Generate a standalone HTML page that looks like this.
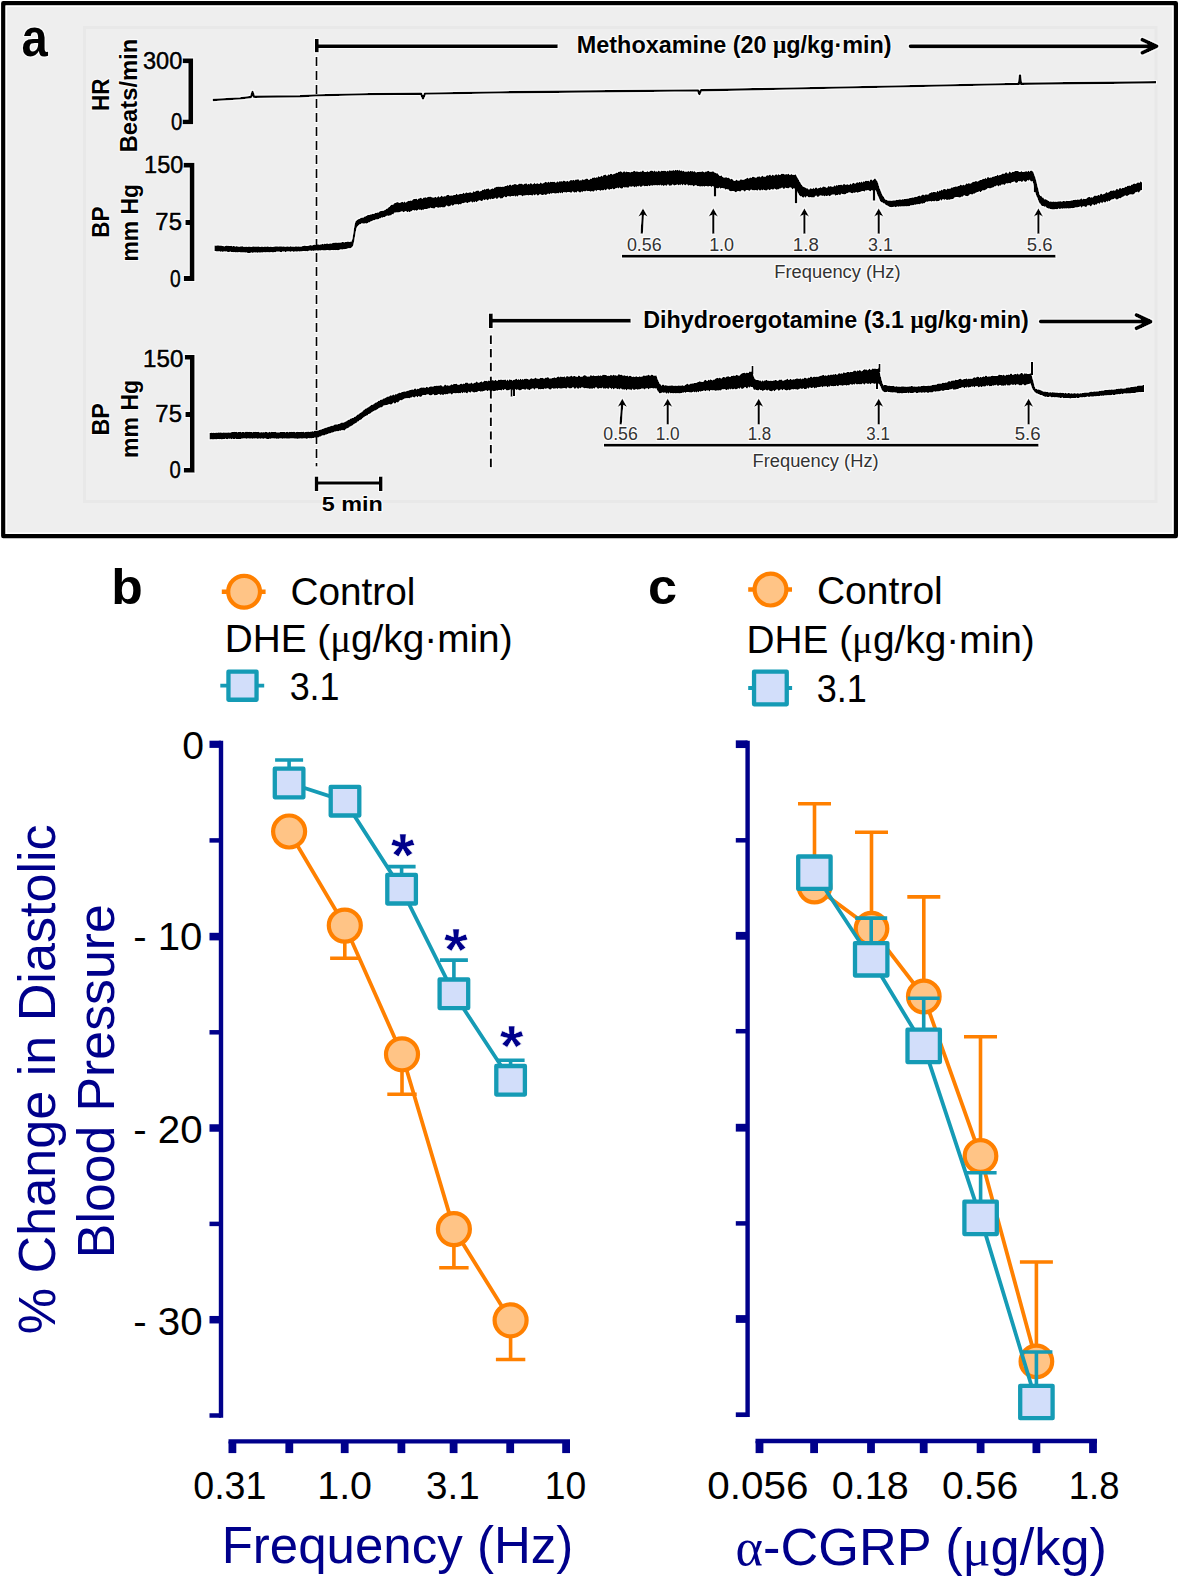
<!DOCTYPE html>
<html><head><meta charset="utf-8"><style>
html,body{margin:0;padding:0;background:#fff;}
svg{display:block;font-family:"Liberation Sans",sans-serif;}
</style></head><body>
<svg width="1181" height="1578" viewBox="0 0 1181 1578">
<defs><filter id="halo" x="-5%" y="-5%" width="110%" height="110%"><feMorphology in="SourceAlpha" operator="dilate" radius="1.2" result="d"/><feFlood flood-color="#ffffff" flood-opacity="0.75"/><feComposite in2="d" operator="in" result="w"/><feMerge><feMergeNode in="w"/><feMergeNode in="SourceGraphic"/></feMerge></filter></defs>
<rect width="1181" height="1578" fill="#fff"/>
<rect x="3.3" y="3.2" width="1172.5" height="532.9" fill="#eeeeee" stroke="#000" stroke-width="4.4" stroke-linejoin="round"/>
<rect x="6.3" y="6.2" width="1166.5" height="527" fill="none" stroke="#fff" stroke-width="1.6"/>
<rect x="84.5" y="27.5" width="1071.5" height="474" fill="none" stroke="#e8e8e8" stroke-width="3"/>
<g filter="url(#halo)">
<path d="M182.4,60.8 H190.7 V121.9 H182.4" fill="none" stroke="#000" stroke-width="4.9"/>
<path d="M183.3,165.3 H192.1 V278.5 H183.8 M185.3,222.5 H192.1" fill="none" stroke="#000" stroke-width="4.9"/>
<path d="M184.8,357.4 H192.3 V470.3 H183.8 M185.3,414.5 H192.3" fill="none" stroke="#000" stroke-width="4.8"/>
<line x1="316.5" y1="57.1" x2="316.5" y2="466.4" stroke="#000" stroke-width="2.1" stroke-dasharray="9,5"/>
<line x1="490.9" y1="335.3" x2="490.9" y2="468.2" stroke="#000" stroke-width="2.1" stroke-dasharray="8.6,5.1"/>
<path d="M316.9,39 V52.2 M316.9,46.1 H557.8" fill="none" stroke="#000" stroke-width="3.8"/>
<path d="M910.6,46.2 H1155 M1142.4,39.8 L1156.5,46.2 L1142.4,52.7" fill="none" stroke="#000" stroke-width="4" stroke-linecap="round" stroke-linejoin="round"/>
<path d="M490.9,313.4 V328 M490.9,320.8 H630.8" fill="none" stroke="#000" stroke-width="3.9"/>
<path d="M1040.8,321.6 H1149 M1136.5,315 L1150.5,321.6 L1136.5,328.2" fill="none" stroke="#000" stroke-width="4" stroke-linecap="round" stroke-linejoin="round"/>
<path d="M316.5,476.5 V491 M316.5,483 H380.8 M380.8,476.5 V491" fill="none" stroke="#000" stroke-width="3.6"/>
<path d="M641.7,233.8 L643,212.2" stroke="#000" stroke-width="2.4" fill="none"/>
<path d="M643,208.2 L638.2,216.7 L643,214.2 L647.8,216.7 Z" fill="#000"/>
<path d="M713.3,233.8 L713.3,212.2" stroke="#000" stroke-width="2.4" fill="none"/>
<path d="M713.3,208.2 L708.5,216.7 L713.3,214.2 L718.0999999999999,216.7 Z" fill="#000"/>
<path d="M804.4,233.8 L804.4,212.2" stroke="#000" stroke-width="2.4" fill="none"/>
<path d="M804.4,208.2 L799.6,216.7 L804.4,214.2 L809.1999999999999,216.7 Z" fill="#000"/>
<path d="M878.7,233.8 L878.7,212.2" stroke="#000" stroke-width="2.4" fill="none"/>
<path d="M878.7,208.2 L873.9000000000001,216.7 L878.7,214.2 L883.5,216.7 Z" fill="#000"/>
<path d="M1038.4,233.8 L1038.4,212.2" stroke="#000" stroke-width="2.4" fill="none"/>
<path d="M1038.4,208.2 L1033.6000000000001,216.7 L1038.4,214.2 L1043.2,216.7 Z" fill="#000"/>
<line x1="622" y1="256.2" x2="1055.6" y2="256.2" stroke="#000" stroke-width="3"/>
<path d="M620.6,424.5 L622.3,402.4" stroke="#000" stroke-width="2.4" fill="none"/>
<path d="M622.3,398.4 L617.5,406.9 L622.3,404.4 L627.0999999999999,406.9 Z" fill="#000"/>
<path d="M667.7,424.5 L667.7,402.4" stroke="#000" stroke-width="2.4" fill="none"/>
<path d="M667.7,398.4 L662.9000000000001,406.9 L667.7,404.4 L672.5,406.9 Z" fill="#000"/>
<path d="M758.7,424.5 L758.7,402.4" stroke="#000" stroke-width="2.4" fill="none"/>
<path d="M758.7,398.4 L753.9000000000001,406.9 L758.7,404.4 L763.5,406.9 Z" fill="#000"/>
<path d="M878.7,424.5 L878.7,402.4" stroke="#000" stroke-width="2.4" fill="none"/>
<path d="M878.7,398.4 L873.9000000000001,406.9 L878.7,404.4 L883.5,406.9 Z" fill="#000"/>
<path d="M1028.6,424.5 L1028.6,402.4" stroke="#000" stroke-width="2.4" fill="none"/>
<path d="M1028.6,398.4 L1023.8,406.9 L1028.6,404.4 L1033.3999999999999,406.9 Z" fill="#000"/>
<line x1="604" y1="445.3" x2="1038.6" y2="445.3" stroke="#000" stroke-width="3"/>
<polyline points="212.7,100.0 240.0,98.4 251.0,97.0 252.5,92.0 254.0,96.7 300.0,96.2 316.0,95.4 370.0,94.1 421.0,93.6 423.0,98.4 425.0,93.6 500.0,92.4 580.0,91.5 698.0,90.4 699.4,94.0 701.0,90.3 900.0,86.4 1019.0,83.9 1020.0,75.5 1021.0,83.8 1156.0,82.3" fill="none" stroke="#000" stroke-width="2.4" stroke-linejoin="round"/>
<path d="M214.4,245.4 L215.4,245.6 L216.4,245.6 L217.4,245.3 L218.4,245.3 L219.4,245.4 L220.4,245.6 L221.4,245.5 L222.4,245.9 L223.4,245.9 L224.4,246.2 L225.4,246.1 L226.4,245.6 L227.4,245.8 L228.4,245.7 L229.4,246.1 L230.4,246.1 L231.4,245.8 L232.4,246.2 L233.4,246.0 L234.4,246.1 L235.4,246.4 L236.4,246.1 L237.4,246.3 L238.4,246.5 L239.4,246.7 L240.4,246.3 L241.4,246.2 L242.4,246.1 L243.4,246.7 L244.4,246.8 L245.4,246.7 L246.4,246.6 L247.4,246.9 L248.4,246.6 L249.4,246.4 L250.4,246.8 L251.4,246.9 L252.4,246.6 L253.4,246.3 L254.4,246.4 L255.4,246.4 L256.4,246.4 L257.4,246.6 L258.4,246.3 L259.4,246.7 L260.4,246.9 L261.4,246.5 L262.4,246.5 L263.4,246.9 L264.4,246.4 L265.4,246.4 L266.4,246.7 L267.4,246.2 L268.4,246.5 L269.4,246.9 L270.4,246.6 L271.4,246.7 L272.4,246.9 L273.4,246.8 L274.4,246.5 L275.4,246.3 L276.4,246.2 L277.4,246.3 L278.4,246.4 L279.4,246.2 L280.4,246.2 L281.4,246.2 L282.4,246.6 L283.4,246.3 L284.4,246.4 L285.4,246.7 L286.4,246.5 L287.4,246.2 L288.4,246.4 L289.4,246.7 L290.4,246.1 L291.4,246.5 L292.4,246.5 L293.4,246.5 L294.4,246.7 L295.4,246.3 L296.4,246.2 L297.4,246.4 L298.4,246.3 L299.4,246.6 L300.4,246.6 L301.4,246.5 L302.4,245.9 L303.4,245.9 L304.4,245.6 L305.4,245.7 L306.4,246.0 L307.4,245.9 L308.4,245.8 L309.4,245.2 L310.4,245.1 L311.4,245.3 L312.4,245.3 L313.4,245.1 L314.4,244.6 L315.4,245.1 L316.4,244.8 L317.4,244.3 L318.4,244.3 L319.4,244.7 L320.4,244.2 L321.4,244.3 L322.4,243.8 L323.4,244.3 L324.4,243.6 L325.4,244.1 L326.4,243.6 L327.4,243.3 L328.4,243.9 L329.4,243.4 L330.4,243.3 L331.4,243.5 L332.4,242.9 L333.4,242.8 L334.4,242.8 L335.4,242.6 L336.4,242.6 L337.4,242.7 L338.4,242.5 L339.4,242.5 L340.4,242.4 L341.4,242.3 L342.4,241.9 L343.4,241.9 L344.4,242.3 L345.4,241.9 L346.4,242.0 L347.4,241.6 L348.4,241.6 L349.4,241.9 L350.4,241.6 L351.4,241.5 L352.4,238.8 L353.4,232.2 L354.4,225.5 L355.4,221.4 L356.4,220.5 L357.4,219.8 L358.4,218.9 L359.4,218.9 L360.4,218.1 L361.4,217.8 L362.4,217.5 L363.4,217.4 L364.4,216.4 L365.4,216.2 L366.4,215.9 L367.4,215.1 L368.4,215.0 L369.4,215.1 L370.4,214.3 L371.4,214.3 L372.4,213.8 L373.4,213.9 L374.4,213.5 L375.4,212.8 L376.4,212.9 L377.4,212.2 L378.4,212.4 L379.4,211.5 L380.4,211.1 L381.4,211.0 L382.4,210.7 L383.4,210.7 L384.4,209.9 L385.4,209.7 L386.4,208.7 L387.4,208.4 L388.4,207.3 L389.4,207.1 L390.4,205.5 L391.4,204.8 L392.4,204.8 L393.4,204.3 L394.4,203.1 L395.4,203.1 L396.4,202.2 L397.4,202.0 L398.4,202.3 L399.4,203.0 L400.4,202.4 L401.4,202.0 L402.4,201.7 L403.4,202.4 L404.4,201.3 L405.4,202.5 L406.4,202.1 L407.4,201.2 L408.4,200.8 L409.4,201.1 L410.4,200.3 L411.4,200.7 L412.4,200.0 L413.4,199.1 L414.4,198.9 L415.4,199.0 L416.4,198.5 L417.4,199.7 L418.4,198.4 L419.4,198.2 L420.4,197.7 L421.4,197.8 L422.4,199.0 L423.4,197.6 L424.4,197.6 L425.4,197.0 L426.4,197.7 L427.4,197.1 L428.4,196.7 L429.4,196.7 L430.4,196.5 L431.4,196.9 L432.4,197.3 L433.4,197.5 L434.4,197.3 L435.4,196.7 L436.4,197.6 L437.4,197.1 L438.4,195.7 L439.4,197.2 L440.4,196.8 L441.4,195.6 L442.4,196.2 L443.4,196.6 L444.4,196.1 L445.4,196.2 L446.4,195.3 L447.4,195.0 L448.4,194.8 L449.4,195.6 L450.4,195.6 L451.4,195.2 L452.4,195.6 L453.4,194.9 L454.4,195.0 L455.4,195.0 L456.4,193.6 L457.4,194.6 L458.4,194.5 L459.4,193.9 L460.4,193.7 L461.4,194.1 L462.4,193.7 L463.4,192.6 L464.4,193.5 L465.4,193.1 L466.4,192.0 L467.4,192.9 L468.4,192.8 L469.4,192.3 L470.4,192.1 L471.4,192.7 L472.4,192.7 L473.4,190.8 L474.4,192.1 L475.4,191.2 L476.4,190.7 L477.4,190.5 L478.4,190.2 L479.4,191.5 L480.4,191.1 L481.4,191.0 L482.4,189.6 L483.4,189.9 L484.4,188.8 L485.4,189.4 L486.4,188.7 L487.4,188.8 L488.4,188.1 L489.4,189.4 L490.4,189.3 L491.4,189.1 L492.4,187.9 L493.4,188.9 L494.4,187.5 L495.4,187.2 L496.4,186.7 L497.4,186.8 L498.4,186.5 L499.4,186.8 L500.4,186.4 L501.4,187.1 L502.4,186.4 L503.4,186.8 L504.4,186.2 L505.4,186.0 L506.4,185.9 L507.4,184.8 L508.4,185.8 L509.4,184.8 L510.4,184.3 L511.4,185.5 L512.4,184.8 L513.4,184.6 L514.4,183.9 L515.4,183.9 L516.4,184.3 L517.4,185.0 L518.4,184.1 L519.4,183.6 L520.4,183.8 L521.4,183.6 L522.4,184.1 L523.4,184.4 L524.4,183.7 L525.4,183.6 L526.4,183.0 L527.4,184.6 L528.4,183.7 L529.4,184.3 L530.4,183.1 L531.4,183.3 L532.4,184.2 L533.4,184.0 L534.4,182.5 L535.4,184.0 L536.4,183.4 L537.4,183.0 L538.4,183.7 L539.4,183.9 L540.4,182.3 L541.4,182.9 L542.4,183.6 L543.4,183.0 L544.4,182.6 L545.4,181.7 L546.4,182.0 L547.4,182.6 L548.4,181.6 L549.4,182.5 L550.4,181.4 L551.4,182.1 L552.4,181.8 L553.4,182.1 L554.4,181.4 L555.4,182.5 L556.4,182.3 L557.4,181.1 L558.4,182.3 L559.4,181.0 L560.4,181.3 L561.4,181.1 L562.4,181.4 L563.4,180.6 L564.4,180.7 L565.4,181.2 L566.4,181.3 L567.4,180.7 L568.4,181.5 L569.4,181.1 L570.4,180.0 L571.4,180.0 L572.4,180.3 L573.4,179.7 L574.4,180.4 L575.4,179.4 L576.4,179.4 L577.4,179.2 L578.4,179.0 L579.4,180.4 L580.4,180.0 L581.4,180.3 L582.4,178.9 L583.4,179.8 L584.4,179.6 L585.4,179.0 L586.4,178.5 L587.4,178.6 L588.4,179.8 L589.4,179.7 L590.4,178.4 L591.4,179.0 L592.4,177.4 L593.4,177.7 L594.4,177.1 L595.4,178.1 L596.4,177.0 L597.4,177.4 L598.4,175.8 L599.4,177.1 L600.4,176.6 L601.4,175.6 L602.4,176.5 L603.4,175.1 L604.4,174.9 L605.4,174.2 L606.4,175.6 L607.4,175.4 L608.4,174.0 L609.4,175.0 L610.4,173.8 L611.4,173.7 L612.4,174.4 L613.4,173.9 L614.4,173.8 L615.4,173.2 L616.4,172.4 L617.4,173.1 L618.4,171.8 L619.4,171.7 L620.4,171.1 L621.4,171.6 L622.4,172.6 L623.4,171.4 L624.4,171.1 L625.4,172.2 L626.4,171.3 L627.4,171.9 L628.4,172.1 L629.4,171.9 L630.4,172.2 L631.4,171.7 L632.4,171.9 L633.4,171.0 L634.4,170.8 L635.4,171.5 L636.4,171.2 L637.4,171.3 L638.4,171.8 L639.4,172.1 L640.4,171.2 L641.4,171.8 L642.4,170.4 L643.4,170.5 L644.4,172.1 L645.4,172.0 L646.4,171.9 L647.4,170.8 L648.4,172.0 L649.4,171.4 L650.4,170.7 L651.4,170.6 L652.4,170.8 L653.4,171.5 L654.4,170.3 L655.4,171.5 L656.4,170.9 L657.4,171.7 L658.4,170.4 L659.4,171.0 L660.4,171.4 L661.4,170.5 L662.4,170.9 L663.4,170.7 L664.4,170.7 L665.4,170.7 L666.4,171.6 L667.4,170.6 L668.4,171.2 L669.4,169.9 L670.4,170.6 L671.4,170.5 L672.4,170.6 L673.4,169.7 L674.4,170.8 L675.4,169.8 L676.4,170.2 L677.4,169.8 L678.4,170.4 L679.4,169.6 L680.4,170.9 L681.4,169.9 L682.4,171.3 L683.4,170.6 L684.4,171.4 L685.4,171.5 L686.4,171.4 L687.4,171.4 L688.4,170.8 L689.4,171.7 L690.4,170.7 L691.4,171.3 L692.4,170.7 L693.4,171.8 L694.4,170.7 L695.4,172.1 L696.4,172.3 L697.4,172.0 L698.4,172.1 L699.4,171.8 L700.4,171.8 L701.4,171.8 L702.4,171.0 L703.4,171.8 L704.4,172.2 L705.4,171.6 L706.4,171.6 L707.4,170.9 L708.4,170.8 L709.4,171.5 L710.4,171.7 L711.4,171.8 L712.4,171.3 L713.4,171.2 L714.4,172.3 L715.4,172.8 L716.4,173.3 L717.4,173.0 L718.4,174.3 L719.4,175.7 L720.4,176.1 L721.4,175.1 L722.4,176.7 L723.4,177.3 L724.4,177.5 L725.4,177.2 L726.4,177.1 L727.4,177.9 L728.4,177.4 L729.4,178.0 L730.4,179.3 L731.4,178.7 L732.4,178.9 L733.4,180.2 L734.4,181.0 L735.4,180.6 L736.4,179.6 L737.4,180.3 L738.4,180.5 L739.4,180.6 L740.4,179.3 L741.4,179.3 L742.4,179.7 L743.4,179.7 L744.4,179.2 L745.4,178.9 L746.4,178.3 L747.4,177.6 L748.4,178.5 L749.4,178.1 L750.4,177.3 L751.4,178.1 L752.4,176.8 L753.4,176.8 L754.4,176.9 L755.4,177.5 L756.4,177.4 L757.4,176.4 L758.4,176.4 L759.4,176.1 L760.4,177.3 L761.4,176.3 L762.4,175.5 L763.4,176.4 L764.4,176.4 L765.4,176.8 L766.4,175.4 L767.4,174.9 L768.4,175.4 L769.4,174.7 L770.4,174.5 L771.4,176.1 L772.4,174.6 L773.4,175.1 L774.4,175.5 L775.4,174.5 L776.4,173.9 L777.4,175.2 L778.4,173.7 L779.4,174.9 L780.4,174.8 L781.4,173.8 L782.4,173.7 L783.4,173.8 L784.4,174.3 L785.4,174.2 L786.4,173.9 L787.4,174.3 L788.4,173.4 L789.4,174.8 L790.4,174.7 L791.4,173.7 L792.4,174.7 L793.4,174.8 L794.4,175.1 L795.4,174.1 L796.4,175.6 L797.4,177.5 L798.4,179.0 L799.4,181.2 L800.4,182.6 L801.4,184.6 L802.4,185.7 L803.4,186.7 L804.4,187.1 L805.4,187.4 L806.4,188.2 L807.4,187.9 L808.4,189.3 L809.4,189.2 L810.4,187.9 L811.4,188.4 L812.4,189.1 L813.4,187.6 L814.4,189.0 L815.4,187.4 L816.4,187.3 L817.4,188.5 L818.4,188.0 L819.4,187.9 L820.4,186.8 L821.4,187.9 L822.4,187.0 L823.4,186.3 L824.4,186.7 L825.4,186.7 L826.4,187.7 L827.4,187.3 L828.4,185.7 L829.4,186.4 L830.4,186.1 L831.4,186.3 L832.4,186.8 L833.4,186.6 L834.4,185.0 L835.4,186.2 L836.4,184.7 L837.4,185.5 L838.4,184.8 L839.4,184.9 L840.4,184.7 L841.4,184.6 L842.4,185.2 L843.4,184.0 L844.4,183.8 L845.4,184.8 L846.4,184.6 L847.4,184.0 L848.4,184.8 L849.4,184.7 L850.4,183.3 L851.4,184.4 L852.4,183.3 L853.4,182.8 L854.4,183.2 L855.4,183.4 L856.4,182.5 L857.4,182.0 L858.4,182.8 L859.4,181.7 L860.4,182.6 L861.4,181.3 L862.4,182.5 L863.4,181.1 L864.4,181.8 L865.4,180.7 L866.4,180.7 L867.4,181.0 L868.4,180.5 L869.4,181.5 L870.4,179.6 L871.4,179.3 L872.4,180.6 L873.4,179.8 L874.4,178.5 L875.4,178.5 L876.4,180.1 L877.4,181.2 L878.4,183.9 L879.4,187.8 L880.4,190.1 L881.4,192.4 L882.4,195.1 L883.4,196.2 L884.4,198.0 L885.4,199.4 L886.4,199.8 L887.4,200.2 L888.4,200.4 L889.4,200.5 L890.4,200.5 L891.4,200.8 L892.4,200.6 L893.4,200.3 L894.4,200.3 L895.4,200.3 L896.4,199.8 L897.4,200.1 L898.4,199.7 L899.4,199.3 L900.4,199.3 L901.4,199.7 L902.4,199.0 L903.4,199.2 L904.4,199.0 L905.4,199.1 L906.4,198.7 L907.4,198.4 L908.4,198.4 L909.4,198.1 L910.4,198.1 L911.4,197.8 L912.4,197.3 L913.4,197.4 L914.4,197.1 L915.4,196.7 L916.4,197.0 L917.4,196.2 L918.4,196.1 L919.4,195.2 L920.4,196.2 L921.4,195.3 L922.4,194.6 L923.4,194.6 L924.4,195.2 L925.4,194.3 L926.4,194.2 L927.4,194.5 L928.4,194.2 L929.4,193.1 L930.4,193.0 L931.4,191.9 L932.4,192.2 L933.4,192.0 L934.4,191.9 L935.4,192.1 L936.4,192.3 L937.4,190.5 L938.4,191.8 L939.4,190.2 L940.4,190.8 L941.4,189.4 L942.4,190.3 L943.4,189.1 L944.4,189.0 L945.4,189.0 L946.4,189.7 L947.4,188.2 L948.4,188.7 L949.4,188.6 L950.4,188.5 L951.4,187.2 L952.4,187.5 L953.4,187.1 L954.4,187.1 L955.4,186.2 L956.4,186.5 L957.4,186.2 L958.4,185.9 L959.4,185.8 L960.4,184.6 L961.4,185.1 L962.4,185.2 L963.4,184.5 L964.4,185.3 L965.4,184.4 L966.4,183.1 L967.4,184.0 L968.4,183.1 L969.4,183.2 L970.4,183.6 L971.4,183.0 L972.4,182.0 L973.4,181.8 L974.4,181.7 L975.4,180.9 L976.4,181.0 L977.4,181.4 L978.4,181.1 L979.4,180.2 L980.4,179.9 L981.4,179.9 L982.4,179.0 L983.4,178.7 L984.4,179.0 L985.4,177.6 L986.4,178.9 L987.4,177.1 L988.4,176.7 L989.4,178.0 L990.4,177.3 L991.4,177.5 L992.4,176.7 L993.4,176.6 L994.4,176.3 L995.4,176.0 L996.4,175.9 L997.4,174.6 L998.4,175.5 L999.4,175.0 L1000.4,175.0 L1001.4,174.3 L1002.4,173.6 L1003.4,173.4 L1004.4,173.7 L1005.4,172.4 L1006.4,172.1 L1007.4,173.2 L1008.4,173.2 L1009.4,171.3 L1010.4,172.1 L1011.4,172.8 L1012.4,171.7 L1013.4,172.1 L1014.4,171.2 L1015.4,170.9 L1016.4,171.1 L1017.4,171.0 L1018.4,171.0 L1019.4,172.0 L1020.4,172.0 L1021.4,170.7 L1022.4,171.9 L1023.4,171.9 L1024.4,171.7 L1025.4,171.3 L1026.4,170.9 L1027.4,171.7 L1028.4,170.4 L1029.4,171.8 L1030.4,170.8 L1031.4,170.5 L1032.4,171.0 L1033.4,172.0 L1034.4,175.1 L1035.4,177.6 L1036.4,181.3 L1037.4,185.7 L1038.4,189.2 L1039.4,194.1 L1040.4,196.1 L1041.4,195.7 L1042.4,197.5 L1043.4,197.4 L1044.4,199.2 L1045.4,199.1 L1046.4,199.5 L1047.4,200.1 L1048.4,200.8 L1049.4,201.6 L1050.4,201.3 L1051.4,201.6 L1052.4,201.8 L1053.4,201.2 L1054.4,201.7 L1055.4,201.5 L1056.4,201.7 L1057.4,201.5 L1058.4,201.2 L1059.4,201.3 L1060.4,201.0 L1061.4,201.5 L1062.4,201.2 L1063.4,201.1 L1064.4,200.9 L1065.4,201.2 L1066.4,200.7 L1067.4,201.1 L1068.4,200.9 L1069.4,201.1 L1070.4,200.7 L1071.4,200.3 L1072.4,200.2 L1073.4,200.1 L1074.4,200.0 L1075.4,199.6 L1076.4,200.1 L1077.4,199.3 L1078.4,199.6 L1079.4,199.4 L1080.4,199.1 L1081.4,198.0 L1082.4,199.4 L1083.4,198.6 L1084.4,198.9 L1085.4,199.0 L1086.4,198.6 L1087.4,197.4 L1088.4,197.1 L1089.4,196.8 L1090.4,197.4 L1091.4,196.9 L1092.4,197.4 L1093.4,196.6 L1094.4,195.4 L1095.4,195.4 L1096.4,195.8 L1097.4,195.5 L1098.4,194.8 L1099.4,195.5 L1100.4,193.8 L1101.4,193.6 L1102.4,194.5 L1103.4,194.1 L1104.4,193.7 L1105.4,193.1 L1106.4,191.8 L1107.4,192.7 L1108.4,192.3 L1109.4,191.8 L1110.4,190.7 L1111.4,190.6 L1112.4,190.8 L1113.4,190.0 L1114.4,190.5 L1115.4,190.3 L1116.4,188.8 L1117.4,188.8 L1118.4,189.7 L1119.4,188.1 L1120.4,187.7 L1121.4,188.8 L1122.4,187.8 L1123.4,188.1 L1124.4,187.5 L1125.4,186.5 L1126.4,187.0 L1127.4,185.7 L1128.4,185.7 L1129.4,185.2 L1130.4,186.1 L1131.4,184.5 L1132.4,184.4 L1133.4,183.7 L1134.4,183.2 L1135.4,184.0 L1136.4,183.3 L1137.4,182.5 L1138.4,182.3 L1139.4,183.1 L1140.4,181.1 L1141.4,182.2 L1142.0,181.7 L1142.0,190.2 L1141.4,190.0 L1140.4,190.8 L1139.4,192.3 L1138.4,192.8 L1137.4,191.7 L1136.4,192.2 L1135.4,192.4 L1134.4,194.0 L1133.4,194.5 L1132.4,194.8 L1131.4,194.4 L1130.4,194.5 L1129.4,194.7 L1128.4,195.2 L1127.4,196.3 L1126.4,196.1 L1125.4,195.5 L1124.4,195.9 L1123.4,196.8 L1122.4,196.9 L1121.4,197.7 L1120.4,198.5 L1119.4,197.9 L1118.4,199.0 L1117.4,199.4 L1116.4,199.7 L1115.4,198.7 L1114.4,198.6 L1113.4,199.2 L1112.4,199.5 L1111.4,199.7 L1110.4,200.4 L1109.4,201.4 L1108.4,200.8 L1107.4,202.3 L1106.4,201.1 L1105.4,202.8 L1104.4,202.6 L1103.4,201.7 L1102.4,203.5 L1101.4,202.7 L1100.4,202.4 L1099.4,204.4 L1098.4,203.1 L1097.4,203.8 L1096.4,205.1 L1095.4,204.6 L1094.4,205.6 L1093.4,204.8 L1092.4,204.5 L1091.4,206.3 L1090.4,206.5 L1089.4,205.2 L1088.4,205.5 L1087.4,205.4 L1086.4,207.2 L1085.4,207.0 L1084.4,206.5 L1083.4,206.3 L1082.4,206.8 L1081.4,207.9 L1080.4,206.2 L1079.4,206.9 L1078.4,207.1 L1077.4,207.6 L1076.4,207.5 L1075.4,207.4 L1074.4,207.9 L1073.4,208.0 L1072.4,208.2 L1071.4,208.0 L1070.4,208.4 L1069.4,208.4 L1068.4,208.8 L1067.4,208.3 L1066.4,208.8 L1065.4,208.6 L1064.4,208.8 L1063.4,208.5 L1062.4,208.9 L1061.4,208.6 L1060.4,209.0 L1059.4,209.1 L1058.4,208.6 L1057.4,209.3 L1056.4,209.2 L1055.4,208.9 L1054.4,209.4 L1053.4,209.4 L1052.4,209.5 L1051.4,209.3 L1050.4,209.1 L1049.4,208.8 L1048.4,208.8 L1047.4,208.1 L1046.4,207.7 L1045.4,206.6 L1044.4,207.0 L1043.4,206.1 L1042.4,206.0 L1041.4,205.8 L1040.4,204.0 L1039.4,203.3 L1038.4,201.0 L1037.4,198.1 L1036.4,196.2 L1035.4,192.9 L1034.4,188.4 L1033.4,183.9 L1032.4,180.9 L1031.4,181.8 L1030.4,181.1 L1029.4,179.8 L1028.4,181.0 L1027.4,179.9 L1026.4,181.8 L1025.4,181.9 L1024.4,181.6 L1023.4,180.6 L1022.4,182.1 L1021.4,182.1 L1020.4,181.1 L1019.4,181.4 L1018.4,181.1 L1017.4,182.7 L1016.4,183.0 L1015.4,182.7 L1014.4,181.6 L1013.4,182.1 L1012.4,182.0 L1011.4,182.8 L1010.4,183.7 L1009.4,182.9 L1008.4,183.3 L1007.4,183.8 L1006.4,183.2 L1005.4,184.3 L1004.4,185.2 L1003.4,184.6 L1002.4,184.8 L1001.4,184.8 L1000.4,186.0 L999.4,185.5 L998.4,186.7 L997.4,185.4 L996.4,185.8 L995.4,186.6 L994.4,186.5 L993.4,187.4 L992.4,187.7 L991.4,187.9 L990.4,188.5 L989.4,188.5 L988.4,188.1 L987.4,188.6 L986.4,189.4 L985.4,190.1 L984.4,190.5 L983.4,190.5 L982.4,190.4 L981.4,191.5 L980.4,192.2 L979.4,191.3 L978.4,191.9 L977.4,192.0 L976.4,192.8 L975.4,192.9 L974.4,193.9 L973.4,193.7 L972.4,194.7 L971.4,194.6 L970.4,193.9 L969.4,195.0 L968.4,196.1 L967.4,196.2 L966.4,195.9 L965.4,196.1 L964.4,195.3 L963.4,196.1 L962.4,197.1 L961.4,196.8 L960.4,197.5 L959.4,197.8 L958.4,197.3 L957.4,196.9 L956.4,197.0 L955.4,197.3 L954.4,197.8 L953.4,199.1 L952.4,199.0 L951.4,199.2 L950.4,199.6 L949.4,199.9 L948.4,199.8 L947.4,200.1 L946.4,200.1 L945.4,199.1 L944.4,200.3 L943.4,199.3 L942.4,199.6 L941.4,201.0 L940.4,199.5 L939.4,201.1 L938.4,201.1 L937.4,201.3 L936.4,201.5 L935.4,200.8 L934.4,201.4 L933.4,201.2 L932.4,200.9 L931.4,201.9 L930.4,201.1 L929.4,201.4 L928.4,201.6 L927.4,202.0 L926.4,201.8 L925.4,202.3 L924.4,203.4 L923.4,203.3 L922.4,204.1 L921.4,203.6 L920.4,204.0 L919.4,204.4 L918.4,203.9 L917.4,204.6 L916.4,204.6 L915.4,204.9 L914.4,204.8 L913.4,205.3 L912.4,205.3 L911.4,205.5 L910.4,205.5 L909.4,206.3 L908.4,206.2 L907.4,206.2 L906.4,206.5 L905.4,206.2 L904.4,206.4 L903.4,206.5 L902.4,206.4 L901.4,206.5 L900.4,206.7 L899.4,206.6 L898.4,207.0 L897.4,206.6 L896.4,206.9 L895.4,207.2 L894.4,206.8 L893.4,206.9 L892.4,206.9 L891.4,207.3 L890.4,207.1 L889.4,206.9 L888.4,206.2 L887.4,205.8 L886.4,205.2 L885.4,204.7 L884.4,203.6 L883.4,203.4 L882.4,202.4 L881.4,202.3 L880.4,201.4 L879.4,199.4 L878.4,197.0 L877.4,195.3 L876.4,192.0 L875.4,190.3 L874.4,190.3 L873.4,190.1 L872.4,190.8 L871.4,190.2 L870.4,191.4 L869.4,191.1 L868.4,190.2 L867.4,190.3 L866.4,190.8 L865.4,190.6 L864.4,191.9 L863.4,191.1 L862.4,191.1 L861.4,191.6 L860.4,192.0 L859.4,191.9 L858.4,192.5 L857.4,192.9 L856.4,192.1 L855.4,192.8 L854.4,193.1 L853.4,192.7 L852.4,193.6 L851.4,193.0 L850.4,192.7 L849.4,192.4 L848.4,192.7 L847.4,193.3 L846.4,193.4 L845.4,194.3 L844.4,194.4 L843.4,194.3 L842.4,194.1 L841.4,193.8 L840.4,195.2 L839.4,195.1 L838.4,194.6 L837.4,195.3 L836.4,194.9 L835.4,195.9 L834.4,194.6 L833.4,194.7 L832.4,194.7 L831.4,195.0 L830.4,196.0 L829.4,196.2 L828.4,195.6 L827.4,196.1 L826.4,195.9 L825.4,195.7 L824.4,196.4 L823.4,195.7 L822.4,196.0 L821.4,195.7 L820.4,195.6 L819.4,196.0 L818.4,197.0 L817.4,197.1 L816.4,195.7 L815.4,196.1 L814.4,197.5 L813.4,197.4 L812.4,197.5 L811.4,197.5 L810.4,197.1 L809.4,197.4 L808.4,197.3 L807.4,196.3 L806.4,196.6 L805.4,198.0 L804.4,196.5 L803.4,198.1 L802.4,197.3 L801.4,196.3 L800.4,196.6 L799.4,195.6 L798.4,193.8 L797.4,192.3 L796.4,190.0 L795.4,189.7 L794.4,188.5 L793.4,188.4 L792.4,189.4 L791.4,188.1 L790.4,187.6 L789.4,187.8 L788.4,188.5 L787.4,188.2 L786.4,188.0 L785.4,187.8 L784.4,189.0 L783.4,188.9 L782.4,187.7 L781.4,187.9 L780.4,188.7 L779.4,188.8 L778.4,189.6 L777.4,189.4 L776.4,189.9 L775.4,188.9 L774.4,188.8 L773.4,189.7 L772.4,189.8 L771.4,189.0 L770.4,189.9 L769.4,190.3 L768.4,189.4 L767.4,190.0 L766.4,190.7 L765.4,190.4 L764.4,189.9 L763.4,189.8 L762.4,190.4 L761.4,189.7 L760.4,190.7 L759.4,190.5 L758.4,189.6 L757.4,191.1 L756.4,190.3 L755.4,189.9 L754.4,190.6 L753.4,190.2 L752.4,190.2 L751.4,189.7 L750.4,190.1 L749.4,191.3 L748.4,190.6 L747.4,190.1 L746.4,189.9 L745.4,191.2 L744.4,191.8 L743.4,190.6 L742.4,190.2 L741.4,190.5 L740.4,191.7 L739.4,191.4 L738.4,190.9 L737.4,191.2 L736.4,192.3 L735.4,192.2 L734.4,191.5 L733.4,190.9 L732.4,191.0 L731.4,191.2 L730.4,191.2 L729.4,191.0 L728.4,189.4 L727.4,189.5 L726.4,189.1 L725.4,190.1 L724.4,188.5 L723.4,188.5 L722.4,188.0 L721.4,188.1 L720.4,189.0 L719.4,187.4 L718.4,188.6 L717.4,188.5 L716.4,188.0 L715.4,188.1 L714.4,186.4 L713.4,186.8 L712.4,186.1 L711.4,187.4 L710.4,186.1 L709.4,186.0 L708.4,186.7 L707.4,186.6 L706.4,186.0 L705.4,186.1 L704.4,187.1 L703.4,186.1 L702.4,186.7 L701.4,186.3 L700.4,186.7 L699.4,186.5 L698.4,185.9 L697.4,186.3 L696.4,185.4 L695.4,185.2 L694.4,186.0 L693.4,186.6 L692.4,185.3 L691.4,185.5 L690.4,185.4 L689.4,184.9 L688.4,186.0 L687.4,184.8 L686.4,184.6 L685.4,185.4 L684.4,184.9 L683.4,184.2 L682.4,185.8 L681.4,184.1 L680.4,185.6 L679.4,184.7 L678.4,185.5 L677.4,184.4 L676.4,184.9 L675.4,185.1 L674.4,185.7 L673.4,185.1 L672.4,184.4 L671.4,185.8 L670.4,185.7 L669.4,185.9 L668.4,184.7 L667.4,184.7 L666.4,186.2 L665.4,185.2 L664.4,185.5 L663.4,186.3 L662.4,185.1 L661.4,185.9 L660.4,184.8 L659.4,185.7 L658.4,184.9 L657.4,185.8 L656.4,185.2 L655.4,185.2 L654.4,185.5 L653.4,185.3 L652.4,186.1 L651.4,185.4 L650.4,185.7 L649.4,186.2 L648.4,185.4 L647.4,186.6 L646.4,186.1 L645.4,186.0 L644.4,186.4 L643.4,185.7 L642.4,185.9 L641.4,187.1 L640.4,187.0 L639.4,185.7 L638.4,186.8 L637.4,186.1 L636.4,187.6 L635.4,186.5 L634.4,187.6 L633.4,186.5 L632.4,186.5 L631.4,186.9 L630.4,186.8 L629.4,186.6 L628.4,188.0 L627.4,187.8 L626.4,187.4 L625.4,187.5 L624.4,187.7 L623.4,187.1 L622.4,188.8 L621.4,188.8 L620.4,188.2 L619.4,187.4 L618.4,188.8 L617.4,187.7 L616.4,188.3 L615.4,188.4 L614.4,189.3 L613.4,189.4 L612.4,188.5 L611.4,189.2 L610.4,188.9 L609.4,190.2 L608.4,189.5 L607.4,188.8 L606.4,190.0 L605.4,190.4 L604.4,189.6 L603.4,190.6 L602.4,190.5 L601.4,190.0 L600.4,191.3 L599.4,190.2 L598.4,190.0 L597.4,190.0 L596.4,191.5 L595.4,190.2 L594.4,190.9 L593.4,191.9 L592.4,191.2 L591.4,191.3 L590.4,192.0 L589.4,191.0 L588.4,190.9 L587.4,191.3 L586.4,190.7 L585.4,191.4 L584.4,191.5 L583.4,190.9 L582.4,192.6 L581.4,191.5 L580.4,192.8 L579.4,192.6 L578.4,191.8 L577.4,191.2 L576.4,192.9 L575.4,191.9 L574.4,192.9 L573.4,192.0 L572.4,191.6 L571.4,193.1 L570.4,192.8 L569.4,191.9 L568.4,192.1 L567.4,192.0 L566.4,193.0 L565.4,192.2 L564.4,192.6 L563.4,192.0 L562.4,193.7 L561.4,192.6 L560.4,193.4 L559.4,192.4 L558.4,193.7 L557.4,192.9 L556.4,193.4 L555.4,193.8 L554.4,193.6 L553.4,192.9 L552.4,193.3 L551.4,194.1 L550.4,193.2 L549.4,194.4 L548.4,193.7 L547.4,193.9 L546.4,195.1 L545.4,194.9 L544.4,194.6 L543.4,195.1 L542.4,195.1 L541.4,195.1 L540.4,194.2 L539.4,194.5 L538.4,195.6 L537.4,195.8 L536.4,194.2 L535.4,195.1 L534.4,195.6 L533.4,194.4 L532.4,196.0 L531.4,195.3 L530.4,195.0 L529.4,195.0 L528.4,195.8 L527.4,194.9 L526.4,195.3 L525.4,195.4 L524.4,195.8 L523.4,195.7 L522.4,196.6 L521.4,195.5 L520.4,195.3 L519.4,195.3 L518.4,195.5 L517.4,197.1 L516.4,195.7 L515.4,197.0 L514.4,195.7 L513.4,196.2 L512.4,196.1 L511.4,196.1 L510.4,197.0 L509.4,196.4 L508.4,196.2 L507.4,196.2 L506.4,197.4 L505.4,197.2 L504.4,196.6 L503.4,197.6 L502.4,198.4 L501.4,198.4 L500.4,198.8 L499.4,197.5 L498.4,197.8 L497.4,199.1 L496.4,199.1 L495.4,197.8 L494.4,198.7 L493.4,199.1 L492.4,198.9 L491.4,198.8 L490.4,199.7 L489.4,198.8 L488.4,200.1 L487.4,200.4 L486.4,199.6 L485.4,199.7 L484.4,200.2 L483.4,199.5 L482.4,201.2 L481.4,201.0 L480.4,200.8 L479.4,200.2 L478.4,201.1 L477.4,201.4 L476.4,202.2 L475.4,201.2 L474.4,202.6 L473.4,201.8 L472.4,202.9 L471.4,201.7 L470.4,201.7 L469.4,202.5 L468.4,202.4 L467.4,203.3 L466.4,202.7 L465.4,202.4 L464.4,203.1 L463.4,203.2 L462.4,203.0 L461.4,204.2 L460.4,204.5 L459.4,204.1 L458.4,205.3 L457.4,204.1 L456.4,204.4 L455.4,204.5 L454.4,204.4 L453.4,205.4 L452.4,205.9 L451.4,204.8 L450.4,206.2 L449.4,206.2 L448.4,206.7 L447.4,206.0 L446.4,205.5 L445.4,206.9 L444.4,207.4 L443.4,207.4 L442.4,207.5 L441.4,207.1 L440.4,207.7 L439.4,207.5 L438.4,208.1 L437.4,207.8 L436.4,207.1 L435.4,207.5 L434.4,208.7 L433.4,208.4 L432.4,208.3 L431.4,207.9 L430.4,207.7 L429.4,208.5 L428.4,208.4 L427.4,208.9 L426.4,209.1 L425.4,209.0 L424.4,209.1 L423.4,210.3 L422.4,209.7 L421.4,210.5 L420.4,209.7 L419.4,209.9 L418.4,209.6 L417.4,210.6 L416.4,211.0 L415.4,209.9 L414.4,211.1 L413.4,210.1 L412.4,210.6 L411.4,211.3 L410.4,211.8 L409.4,212.2 L408.4,211.5 L407.4,212.2 L406.4,211.6 L405.4,211.1 L404.4,211.9 L403.4,212.2 L402.4,211.4 L401.4,211.5 L400.4,212.0 L399.4,212.3 L398.4,212.5 L397.4,212.4 L396.4,212.5 L395.4,212.8 L394.4,212.8 L393.4,214.6 L392.4,213.9 L391.4,215.2 L390.4,215.5 L389.4,215.7 L388.4,215.9 L387.4,215.8 L386.4,215.9 L385.4,216.7 L384.4,217.2 L383.4,217.1 L382.4,217.9 L381.4,217.6 L380.4,218.4 L379.4,218.4 L378.4,219.2 L377.4,219.6 L376.4,219.5 L375.4,219.7 L374.4,220.2 L373.4,220.3 L372.4,220.9 L371.4,221.3 L370.4,221.7 L369.4,222.4 L368.4,222.6 L367.4,223.3 L366.4,223.7 L365.4,223.2 L364.4,223.7 L363.4,223.8 L362.4,223.6 L361.4,223.6 L360.4,224.3 L359.4,224.5 L358.4,225.6 L357.4,226.4 L356.4,228.6 L355.4,234.0 L354.4,240.3 L353.4,245.1 L352.4,246.9 L351.4,247.7 L350.4,248.2 L349.4,248.3 L348.4,248.3 L347.4,248.7 L346.4,249.0 L345.4,249.0 L344.4,249.2 L343.4,249.3 L342.4,249.7 L341.4,249.4 L340.4,249.5 L339.4,249.9 L338.4,250.2 L337.4,250.3 L336.4,250.0 L335.4,250.3 L334.4,250.0 L333.4,250.2 L332.4,250.0 L331.4,249.9 L330.4,250.4 L329.4,250.5 L328.4,250.3 L327.4,249.9 L326.4,250.3 L325.4,250.4 L324.4,250.6 L323.4,250.6 L322.4,250.2 L321.4,250.2 L320.4,250.8 L319.4,250.4 L318.4,250.7 L317.4,250.8 L316.4,250.6 L315.4,250.8 L314.4,250.8 L313.4,250.9 L312.4,250.8 L311.4,251.1 L310.4,250.7 L309.4,250.7 L308.4,250.9 L307.4,251.4 L306.4,251.0 L305.4,251.3 L304.4,251.0 L303.4,250.9 L302.4,251.3 L301.4,251.5 L300.4,251.6 L299.4,251.8 L298.4,251.2 L297.4,251.7 L296.4,251.7 L295.4,251.4 L294.4,251.7 L293.4,251.9 L292.4,251.3 L291.4,251.4 L290.4,252.0 L289.4,251.5 L288.4,251.6 L287.4,251.5 L286.4,251.8 L285.4,252.2 L284.4,251.6 L283.4,251.8 L282.4,251.6 L281.4,252.2 L280.4,251.9 L279.4,251.7 L278.4,251.7 L277.4,251.8 L276.4,251.7 L275.4,252.2 L274.4,252.0 L273.4,252.4 L272.4,252.4 L271.4,251.9 L270.4,252.3 L269.4,252.4 L268.4,252.3 L267.4,252.3 L266.4,252.2 L265.4,252.4 L264.4,252.2 L263.4,252.2 L262.4,252.7 L261.4,252.4 L260.4,252.8 L259.4,252.8 L258.4,252.5 L257.4,252.9 L256.4,252.4 L255.4,252.8 L254.4,252.4 L253.4,252.7 L252.4,252.9 L251.4,252.6 L250.4,253.1 L249.4,252.9 L248.4,252.9 L247.4,253.0 L246.4,252.6 L245.4,252.7 L244.4,252.4 L243.4,252.6 L242.4,252.6 L241.4,252.5 L240.4,252.6 L239.4,252.1 L238.4,252.2 L237.4,252.6 L236.4,252.3 L235.4,252.4 L234.4,252.0 L233.4,252.2 L232.4,252.1 L231.4,251.9 L230.4,251.7 L229.4,251.9 L228.4,252.0 L227.4,252.1 L226.4,251.6 L225.4,251.7 L224.4,251.5 L223.4,251.7 L222.4,252.0 L221.4,251.5 L220.4,251.9 L219.4,251.3 L218.4,251.5 L217.4,251.5 L216.4,251.4 L215.4,251.1 L214.4,251.1 Z" fill="#000"/>
<path d="M209.5,433.1 L210.5,433.0 L211.5,432.5 L212.5,433.0 L213.5,432.5 L214.5,433.0 L215.5,432.7 L216.5,432.4 L217.5,432.7 L218.5,432.3 L219.5,432.6 L220.5,432.3 L221.5,432.6 L222.5,432.7 L223.5,432.2 L224.5,432.6 L225.5,432.5 L226.5,432.6 L227.5,432.6 L228.5,432.3 L229.5,432.6 L230.5,432.5 L231.5,432.0 L232.5,432.1 L233.5,432.1 L234.5,431.8 L235.5,432.1 L236.5,431.8 L237.5,432.3 L238.5,431.9 L239.5,431.9 L240.5,431.7 L241.5,432.3 L242.5,432.0 L243.5,432.0 L244.5,432.3 L245.5,431.8 L246.5,431.8 L247.5,431.7 L248.5,432.1 L249.5,431.7 L250.5,432.1 L251.5,432.1 L252.5,432.3 L253.5,431.7 L254.5,432.0 L255.5,431.8 L256.5,431.9 L257.5,432.1 L258.5,431.7 L259.5,432.2 L260.5,432.2 L261.5,431.9 L262.5,432.2 L263.5,431.9 L264.5,432.2 L265.5,431.8 L266.5,432.0 L267.5,432.2 L268.5,432.2 L269.5,431.7 L270.5,432.3 L271.5,431.8 L272.5,432.1 L273.5,432.0 L274.5,432.0 L275.5,431.7 L276.5,432.3 L277.5,432.3 L278.5,432.2 L279.5,432.3 L280.5,432.1 L281.5,432.1 L282.5,432.0 L283.5,432.1 L284.5,432.0 L285.5,432.3 L286.5,431.9 L287.5,431.7 L288.5,432.3 L289.5,431.8 L290.5,432.0 L291.5,431.7 L292.5,431.9 L293.5,431.8 L294.5,431.7 L295.5,432.2 L296.5,432.1 L297.5,431.8 L298.5,432.0 L299.5,432.1 L300.5,431.9 L301.5,431.8 L302.5,431.9 L303.5,431.6 L304.5,432.2 L305.5,431.9 L306.5,431.7 L307.5,431.7 L308.5,431.6 L309.5,432.1 L310.5,431.4 L311.5,431.5 L312.5,431.0 L313.5,431.5 L314.5,430.7 L315.5,430.7 L316.5,430.7 L317.5,430.6 L318.5,430.3 L319.5,430.0 L320.5,429.6 L321.5,429.3 L322.5,429.0 L323.5,428.5 L324.5,428.0 L325.5,427.7 L326.5,427.5 L327.5,427.1 L328.5,426.7 L329.5,426.6 L330.5,426.0 L331.5,425.7 L332.5,425.7 L333.5,425.2 L334.5,424.6 L335.5,424.3 L336.5,424.3 L337.5,424.3 L338.5,423.9 L339.5,423.7 L340.5,423.0 L341.5,422.4 L342.5,422.5 L343.5,422.5 L344.5,421.9 L345.5,421.5 L346.5,421.1 L347.5,420.3 L348.5,419.8 L349.5,419.5 L350.5,418.6 L351.5,418.3 L352.5,417.9 L353.5,417.7 L354.5,416.8 L355.5,416.6 L356.5,415.5 L357.5,414.5 L358.5,414.3 L359.5,413.2 L360.5,412.7 L361.5,411.9 L362.5,411.2 L363.5,409.9 L364.5,409.4 L365.5,408.5 L366.5,408.2 L367.5,407.4 L368.5,407.0 L369.5,406.2 L370.5,405.5 L371.5,404.7 L372.5,404.7 L373.5,403.9 L374.5,403.2 L375.5,402.5 L376.5,402.2 L377.5,401.7 L378.5,400.8 L379.5,400.8 L380.5,399.8 L381.5,399.6 L382.5,399.2 L383.5,398.2 L384.5,398.2 L385.5,397.8 L386.5,397.0 L387.5,396.6 L388.5,396.6 L389.5,396.1 L390.5,395.0 L391.5,395.6 L392.5,395.0 L393.5,394.3 L394.5,395.2 L395.5,393.7 L396.5,394.3 L397.5,393.6 L398.5,393.1 L399.5,392.4 L400.5,392.9 L401.5,392.1 L402.5,391.9 L403.5,391.5 L404.5,391.2 L405.5,391.4 L406.5,390.9 L407.5,390.7 L408.5,390.4 L409.5,390.0 L410.5,389.9 L411.5,389.6 L412.5,389.2 L413.5,389.7 L414.5,388.6 L415.5,388.3 L416.5,389.4 L417.5,388.5 L418.5,388.9 L419.5,387.9 L420.5,387.8 L421.5,387.3 L422.5,387.6 L423.5,387.3 L424.5,387.6 L425.5,387.8 L426.5,386.7 L427.5,387.1 L428.5,387.5 L429.5,386.7 L430.5,386.2 L431.5,386.3 L432.5,386.6 L433.5,386.2 L434.5,385.7 L435.5,385.9 L436.5,385.4 L437.5,385.8 L438.5,385.6 L439.5,385.5 L440.5,385.1 L441.5,385.3 L442.5,386.3 L443.5,386.2 L444.5,384.7 L445.5,384.5 L446.5,385.5 L447.5,385.0 L448.5,385.4 L449.5,385.6 L450.5,385.1 L451.5,384.1 L452.5,385.1 L453.5,383.8 L454.5,383.9 L455.5,384.1 L456.5,383.5 L457.5,384.5 L458.5,384.7 L459.5,384.4 L460.5,383.8 L461.5,383.6 L462.5,384.3 L463.5,383.2 L464.5,384.1 L465.5,382.6 L466.5,382.6 L467.5,382.6 L468.5,383.5 L469.5,383.3 L470.5,383.3 L471.5,382.3 L472.5,383.4 L473.5,383.2 L474.5,382.8 L475.5,382.5 L476.5,381.3 L477.5,381.9 L478.5,382.7 L479.5,382.3 L480.5,382.0 L481.5,381.1 L482.5,382.3 L483.5,381.4 L484.5,380.4 L485.5,381.0 L486.5,380.7 L487.5,381.3 L488.5,380.3 L489.5,380.7 L490.5,381.4 L491.5,380.2 L492.5,379.9 L493.5,380.2 L494.5,380.5 L495.5,379.8 L496.5,380.5 L497.5,380.8 L498.5,379.6 L499.5,380.0 L500.5,379.4 L501.5,379.6 L502.5,380.0 L503.5,379.7 L504.5,379.8 L505.5,379.2 L506.5,380.8 L507.5,379.2 L508.5,380.7 L509.5,379.1 L510.5,379.7 L511.5,379.8 L512.5,380.4 L513.5,379.8 L514.5,379.8 L515.5,379.0 L516.5,378.6 L517.5,380.0 L518.5,378.8 L519.5,379.9 L520.5,378.6 L521.5,379.7 L522.5,378.8 L523.5,379.6 L524.5,378.7 L525.5,378.7 L526.5,378.4 L527.5,378.9 L528.5,379.3 L529.5,379.4 L530.5,378.6 L531.5,378.0 L532.5,378.7 L533.5,378.8 L534.5,378.3 L535.5,377.6 L536.5,378.2 L537.5,378.6 L538.5,378.8 L539.5,378.6 L540.5,377.7 L541.5,378.0 L542.5,377.7 L543.5,378.2 L544.5,378.6 L545.5,377.4 L546.5,377.8 L547.5,377.1 L548.5,377.3 L549.5,378.4 L550.5,378.2 L551.5,378.3 L552.5,378.0 L553.5,377.7 L554.5,376.9 L555.5,378.0 L556.5,377.4 L557.5,376.8 L558.5,376.2 L559.5,377.3 L560.5,376.2 L561.5,376.7 L562.5,376.7 L563.5,376.9 L564.5,376.0 L565.5,377.4 L566.5,375.9 L567.5,376.1 L568.5,376.5 L569.5,376.4 L570.5,375.9 L571.5,375.6 L572.5,376.5 L573.5,376.1 L574.5,376.1 L575.5,376.3 L576.5,376.6 L577.5,377.0 L578.5,375.3 L579.5,375.8 L580.5,376.8 L581.5,376.4 L582.5,376.4 L583.5,375.4 L584.5,374.9 L585.5,375.3 L586.5,376.1 L587.5,376.4 L588.5,376.3 L589.5,376.4 L590.5,375.0 L591.5,375.3 L592.5,375.9 L593.5,374.9 L594.5,376.0 L595.5,376.0 L596.5,375.8 L597.5,375.7 L598.5,374.9 L599.5,375.9 L600.5,375.0 L601.5,376.1 L602.5,374.8 L603.5,374.7 L604.5,374.8 L605.5,375.0 L606.5,375.1 L607.5,375.9 L608.5,375.6 L609.5,376.0 L610.5,374.8 L611.5,375.1 L612.5,375.6 L613.5,374.4 L614.5,375.3 L615.5,374.9 L616.5,375.5 L617.5,375.5 L618.5,374.0 L619.5,374.2 L620.5,375.0 L621.5,374.5 L622.5,375.3 L623.5,375.4 L624.5,375.0 L625.5,375.7 L626.5,376.0 L627.5,375.2 L628.5,376.4 L629.5,375.7 L630.5,375.7 L631.5,376.2 L632.5,377.1 L633.5,376.3 L634.5,376.9 L635.5,376.5 L636.5,376.1 L637.5,376.9 L638.5,377.1 L639.5,376.0 L640.5,376.8 L641.5,376.5 L642.5,376.2 L643.5,375.2 L644.5,375.6 L645.5,375.8 L646.5,375.2 L647.5,375.3 L648.5,374.6 L649.5,375.3 L650.5,375.4 L651.5,374.6 L652.5,374.7 L653.5,375.4 L654.5,375.6 L655.5,375.5 L656.5,375.3 L657.5,378.8 L658.5,381.0 L659.5,383.5 L660.5,384.1 L661.5,385.7 L662.5,384.6 L663.5,384.4 L664.5,385.4 L665.5,384.9 L666.5,385.3 L667.5,385.5 L668.5,385.7 L669.5,385.5 L670.5,385.5 L671.5,385.2 L672.5,385.2 L673.5,385.7 L674.5,385.8 L675.5,385.4 L676.5,385.7 L677.5,385.7 L678.5,385.3 L679.5,385.4 L680.5,385.5 L681.5,385.5 L682.5,385.1 L683.5,385.7 L684.5,385.6 L685.5,384.8 L686.5,384.0 L687.5,383.5 L688.5,384.4 L689.5,384.3 L690.5,383.6 L691.5,383.4 L692.5,383.3 L693.5,383.3 L694.5,383.0 L695.5,382.9 L696.5,382.7 L697.5,381.9 L698.5,381.9 L699.5,380.9 L700.5,381.4 L701.5,381.7 L702.5,382.0 L703.5,381.4 L704.5,379.9 L705.5,379.8 L706.5,380.5 L707.5,381.0 L708.5,379.4 L709.5,380.3 L710.5,379.1 L711.5,380.0 L712.5,380.2 L713.5,379.5 L714.5,379.6 L715.5,378.5 L716.5,378.0 L717.5,377.7 L718.5,378.2 L719.5,377.4 L720.5,377.9 L721.5,378.6 L722.5,377.2 L723.5,377.1 L724.5,376.9 L725.5,377.6 L726.5,376.6 L727.5,376.3 L728.5,376.0 L729.5,377.1 L730.5,376.8 L731.5,375.8 L732.5,375.9 L733.5,375.2 L734.5,375.8 L735.5,375.6 L736.5,374.8 L737.5,374.9 L738.5,375.6 L739.5,375.4 L740.5,374.2 L741.5,373.5 L742.5,373.0 L743.5,373.0 L744.5,372.6 L745.5,373.3 L746.5,372.4 L747.5,372.8 L748.5,372.9 L749.5,371.3 L750.5,371.8 L751.5,371.2 L752.5,372.6 L753.5,375.4 L754.5,378.3 L755.5,379.3 L756.5,379.9 L757.5,380.0 L758.5,380.0 L759.5,380.6 L760.5,380.3 L761.5,381.4 L762.5,380.1 L763.5,381.3 L764.5,380.2 L765.5,380.2 L766.5,379.8 L767.5,380.4 L768.5,380.4 L769.5,380.9 L770.5,380.6 L771.5,380.8 L772.5,381.1 L773.5,380.2 L774.5,380.2 L775.5,380.0 L776.5,380.0 L777.5,381.0 L778.5,380.2 L779.5,379.5 L780.5,379.7 L781.5,379.3 L782.5,380.4 L783.5,380.4 L784.5,380.0 L785.5,379.8 L786.5,379.2 L787.5,378.5 L788.5,380.0 L789.5,379.5 L790.5,378.8 L791.5,379.6 L792.5,379.5 L793.5,379.1 L794.5,379.3 L795.5,379.1 L796.5,378.3 L797.5,378.3 L798.5,378.7 L799.5,378.7 L800.5,378.0 L801.5,379.2 L802.5,378.3 L803.5,378.7 L804.5,377.4 L805.5,377.8 L806.5,378.3 L807.5,378.3 L808.5,377.3 L809.5,377.9 L810.5,376.6 L811.5,376.4 L812.5,377.5 L813.5,376.8 L814.5,376.5 L815.5,376.9 L816.5,376.4 L817.5,376.8 L818.5,376.5 L819.5,376.1 L820.5,375.7 L821.5,375.6 L822.5,375.1 L823.5,374.7 L824.5,375.8 L825.5,375.0 L826.5,375.8 L827.5,375.3 L828.5,374.4 L829.5,375.3 L830.5,374.4 L831.5,374.4 L832.5,374.7 L833.5,374.0 L834.5,374.6 L835.5,373.7 L836.5,374.6 L837.5,374.5 L838.5,373.3 L839.5,373.1 L840.5,373.7 L841.5,373.1 L842.5,373.7 L843.5,372.0 L844.5,372.6 L845.5,373.1 L846.5,372.3 L847.5,372.1 L848.5,372.1 L849.5,372.3 L850.5,371.7 L851.5,372.0 L852.5,372.0 L853.5,370.7 L854.5,370.5 L855.5,370.4 L856.5,371.4 L857.5,370.0 L858.5,371.1 L859.5,369.8 L860.5,370.3 L861.5,371.2 L862.5,370.8 L863.5,369.7 L864.5,369.0 L865.5,369.4 L866.5,369.3 L867.5,370.2 L868.5,369.4 L869.5,368.4 L870.5,369.8 L871.5,369.6 L872.5,368.3 L873.5,368.8 L874.5,368.5 L875.5,368.6 L876.5,368.9 L877.5,369.0 L878.5,367.3 L879.5,370.6 L880.5,375.6 L881.5,379.3 L882.5,383.0 L883.5,385.2 L884.5,385.0 L885.5,385.1 L886.5,384.9 L887.5,385.5 L888.5,385.7 L889.5,385.6 L890.5,386.0 L891.5,386.0 L892.5,386.0 L893.5,385.8 L894.5,386.3 L895.5,386.5 L896.5,386.0 L897.5,386.6 L898.5,386.4 L899.5,386.4 L900.5,386.7 L901.5,386.2 L902.5,386.2 L903.5,386.3 L904.5,386.5 L905.5,386.5 L906.5,386.7 L907.5,386.6 L908.5,386.6 L909.5,386.2 L910.5,386.2 L911.5,386.1 L912.5,385.9 L913.5,386.4 L914.5,386.3 L915.5,386.4 L916.5,386.4 L917.5,386.4 L918.5,385.9 L919.5,386.2 L920.5,386.3 L921.5,385.9 L922.5,386.0 L923.5,385.6 L924.5,385.7 L925.5,386.1 L926.5,386.1 L927.5,385.8 L928.5,385.6 L929.5,385.8 L930.5,385.5 L931.5,385.2 L932.5,384.9 L933.5,384.8 L934.5,384.8 L935.5,384.6 L936.5,384.4 L937.5,383.8 L938.5,383.6 L939.5,383.4 L940.5,383.4 L941.5,383.4 L942.5,382.8 L943.5,382.7 L944.5,382.9 L945.5,382.2 L946.5,382.5 L947.5,382.0 L948.5,381.1 L949.5,381.0 L950.5,381.4 L951.5,380.6 L952.5,380.4 L953.5,380.3 L954.5,380.6 L955.5,379.5 L956.5,380.1 L957.5,380.1 L958.5,379.2 L959.5,378.9 L960.5,378.5 L961.5,379.2 L962.5,379.8 L963.5,379.1 L964.5,379.0 L965.5,379.1 L966.5,378.1 L967.5,379.3 L968.5,378.5 L969.5,378.7 L970.5,378.6 L971.5,378.7 L972.5,378.6 L973.5,377.5 L974.5,377.1 L975.5,377.7 L976.5,377.0 L977.5,376.6 L978.5,376.7 L979.5,377.8 L980.5,376.8 L981.5,377.2 L982.5,377.0 L983.5,375.9 L984.5,376.9 L985.5,375.4 L986.5,375.8 L987.5,376.8 L988.5,376.2 L989.5,376.3 L990.5,376.3 L991.5,376.1 L992.5,375.6 L993.5,376.0 L994.5,376.0 L995.5,376.1 L996.5,376.0 L997.5,376.0 L998.5,374.7 L999.5,374.6 L1000.5,374.9 L1001.5,374.9 L1002.5,375.2 L1003.5,374.6 L1004.5,375.3 L1005.5,375.5 L1006.5,374.5 L1007.5,374.9 L1008.5,374.3 L1009.5,375.1 L1010.5,373.5 L1011.5,373.5 L1012.5,374.9 L1013.5,374.5 L1014.5,373.9 L1015.5,373.9 L1016.5,374.3 L1017.5,373.3 L1018.5,374.3 L1019.5,374.2 L1020.5,373.2 L1021.5,373.0 L1022.5,373.1 L1023.5,374.4 L1024.5,373.0 L1025.5,373.6 L1026.5,373.2 L1027.5,374.1 L1028.5,374.1 L1029.5,373.7 L1030.5,373.1 L1031.5,374.2 L1032.5,378.2 L1033.5,381.6 L1034.5,385.9 L1035.5,388.7 L1036.5,388.7 L1037.5,389.4 L1038.5,389.2 L1039.5,389.8 L1040.5,390.1 L1041.5,390.6 L1042.5,390.9 L1043.5,391.5 L1044.5,391.4 L1045.5,391.4 L1046.5,391.9 L1047.5,391.8 L1048.5,392.2 L1049.5,392.2 L1050.5,391.9 L1051.5,392.4 L1052.5,391.9 L1053.5,392.3 L1054.5,392.2 L1055.5,392.5 L1056.5,392.6 L1057.5,392.5 L1058.5,392.9 L1059.5,392.8 L1060.5,392.6 L1061.5,392.9 L1062.5,392.7 L1063.5,392.9 L1064.5,393.2 L1065.5,392.8 L1066.5,393.3 L1067.5,393.3 L1068.5,393.1 L1069.5,393.1 L1070.5,393.6 L1071.5,393.1 L1072.5,393.6 L1073.5,393.2 L1074.5,393.0 L1075.5,393.2 L1076.5,393.6 L1077.5,393.1 L1078.5,393.3 L1079.5,393.4 L1080.5,393.1 L1081.5,393.3 L1082.5,393.0 L1083.5,393.0 L1084.5,392.6 L1085.5,392.6 L1086.5,392.6 L1087.5,392.6 L1088.5,392.5 L1089.5,392.0 L1090.5,391.8 L1091.5,391.6 L1092.5,391.9 L1093.5,391.5 L1094.5,391.2 L1095.5,391.5 L1096.5,391.3 L1097.5,391.3 L1098.5,391.3 L1099.5,390.7 L1100.5,391.0 L1101.5,390.4 L1102.5,390.5 L1103.5,390.5 L1104.5,390.0 L1105.5,389.9 L1106.5,390.1 L1107.5,390.1 L1108.5,389.8 L1109.5,389.6 L1110.5,389.8 L1111.5,389.2 L1112.5,389.6 L1113.5,389.6 L1114.5,389.3 L1115.5,389.2 L1116.5,388.7 L1117.5,389.0 L1118.5,388.5 L1119.5,388.7 L1120.5,388.3 L1121.5,388.2 L1122.5,388.4 L1123.5,388.4 L1124.5,388.2 L1125.5,388.2 L1126.5,387.4 L1127.5,387.4 L1128.5,387.3 L1129.5,387.5 L1130.5,387.0 L1131.5,386.9 L1132.5,387.0 L1133.5,386.7 L1134.5,386.4 L1135.5,386.2 L1136.5,386.5 L1137.5,385.7 L1138.5,385.5 L1139.5,385.6 L1140.5,385.6 L1141.5,385.4 L1142.5,385.2 L1143.5,384.8 L1144.0,385.3 L1144.0,391.9 L1143.5,392.0 L1142.5,391.9 L1141.5,391.9 L1140.5,392.3 L1139.5,391.9 L1138.5,392.3 L1137.5,392.6 L1136.5,392.6 L1135.5,392.9 L1134.5,393.0 L1133.5,392.9 L1132.5,392.9 L1131.5,392.9 L1130.5,393.5 L1129.5,393.6 L1128.5,393.4 L1127.5,393.4 L1126.5,393.7 L1125.5,393.6 L1124.5,393.5 L1123.5,393.8 L1122.5,394.3 L1121.5,393.7 L1120.5,393.9 L1119.5,394.4 L1118.5,394.0 L1117.5,394.5 L1116.5,394.6 L1115.5,394.8 L1114.5,394.9 L1113.5,395.0 L1112.5,394.8 L1111.5,395.0 L1110.5,395.2 L1109.5,395.3 L1108.5,395.2 L1107.5,395.3 L1106.5,395.6 L1105.5,395.4 L1104.5,395.4 L1103.5,395.9 L1102.5,395.7 L1101.5,396.0 L1100.5,395.7 L1099.5,395.9 L1098.5,396.2 L1097.5,396.0 L1096.5,396.3 L1095.5,396.6 L1094.5,396.2 L1093.5,396.7 L1092.5,396.7 L1091.5,396.7 L1090.5,396.5 L1089.5,397.1 L1088.5,396.9 L1087.5,396.6 L1086.5,396.9 L1085.5,397.0 L1084.5,397.5 L1083.5,397.1 L1082.5,397.5 L1081.5,397.5 L1080.5,397.3 L1079.5,397.8 L1078.5,398.0 L1077.5,398.1 L1076.5,397.7 L1075.5,397.9 L1074.5,397.9 L1073.5,398.1 L1072.5,398.0 L1071.5,398.1 L1070.5,398.7 L1069.5,398.3 L1068.5,398.0 L1067.5,398.0 L1066.5,397.9 L1065.5,398.1 L1064.5,397.9 L1063.5,398.2 L1062.5,397.6 L1061.5,398.0 L1060.5,398.1 L1059.5,397.8 L1058.5,397.7 L1057.5,397.5 L1056.5,397.3 L1055.5,397.3 L1054.5,397.5 L1053.5,397.0 L1052.5,397.3 L1051.5,397.4 L1050.5,396.8 L1049.5,396.7 L1048.5,397.1 L1047.5,397.1 L1046.5,396.8 L1045.5,397.0 L1044.5,396.8 L1043.5,396.1 L1042.5,395.8 L1041.5,395.1 L1040.5,394.9 L1039.5,394.7 L1038.5,394.1 L1037.5,393.7 L1036.5,393.4 L1035.5,392.7 L1034.5,391.9 L1033.5,390.4 L1032.5,389.2 L1031.5,386.7 L1030.5,383.6 L1029.5,383.9 L1028.5,384.0 L1027.5,384.6 L1026.5,384.7 L1025.5,385.4 L1024.5,385.4 L1023.5,384.5 L1022.5,384.4 L1021.5,385.4 L1020.5,385.2 L1019.5,385.5 L1018.5,384.8 L1017.5,384.6 L1016.5,384.6 L1015.5,385.6 L1014.5,384.5 L1013.5,385.0 L1012.5,385.0 L1011.5,384.4 L1010.5,385.1 L1009.5,385.7 L1008.5,385.4 L1007.5,385.8 L1006.5,384.5 L1005.5,385.9 L1004.5,385.6 L1003.5,385.9 L1002.5,385.7 L1001.5,386.1 L1000.5,384.9 L999.5,384.9 L998.5,386.1 L997.5,386.0 L996.5,384.8 L995.5,385.6 L994.5,385.2 L993.5,386.1 L992.5,385.5 L991.5,386.2 L990.5,386.1 L989.5,386.5 L988.5,385.2 L987.5,386.2 L986.5,385.4 L985.5,386.5 L984.5,386.7 L983.5,386.5 L982.5,386.6 L981.5,387.2 L980.5,386.5 L979.5,387.1 L978.5,387.5 L977.5,386.3 L976.5,386.2 L975.5,386.3 L974.5,387.4 L973.5,386.4 L972.5,387.0 L971.5,386.4 L970.5,387.3 L969.5,387.2 L968.5,387.9 L967.5,386.8 L966.5,387.9 L965.5,387.0 L964.5,388.4 L963.5,387.5 L962.5,387.3 L961.5,387.8 L960.5,388.1 L959.5,387.9 L958.5,389.0 L957.5,389.0 L956.5,389.3 L955.5,389.7 L954.5,389.8 L953.5,389.9 L952.5,388.7 L951.5,389.3 L950.5,389.4 L949.5,389.8 L948.5,389.9 L947.5,390.1 L946.5,389.9 L945.5,390.0 L944.5,390.5 L943.5,390.9 L942.5,391.1 L941.5,390.6 L940.5,390.9 L939.5,391.2 L938.5,391.4 L937.5,391.5 L936.5,391.6 L935.5,391.9 L934.5,391.6 L933.5,391.7 L932.5,392.4 L931.5,392.5 L930.5,392.4 L929.5,392.2 L928.5,392.9 L927.5,392.9 L926.5,392.3 L925.5,392.4 L924.5,392.9 L923.5,392.4 L922.5,392.7 L921.5,393.0 L920.5,392.5 L919.5,392.8 L918.5,392.7 L917.5,392.9 L916.5,393.2 L915.5,392.6 L914.5,392.6 L913.5,392.9 L912.5,392.9 L911.5,393.0 L910.5,393.1 L909.5,392.7 L908.5,393.4 L907.5,392.8 L906.5,393.0 L905.5,392.9 L904.5,393.0 L903.5,393.0 L902.5,393.5 L901.5,393.4 L900.5,393.0 L899.5,393.5 L898.5,393.3 L897.5,393.4 L896.5,392.7 L895.5,392.7 L894.5,392.5 L893.5,392.5 L892.5,392.7 L891.5,392.5 L890.5,392.4 L889.5,392.1 L888.5,391.9 L887.5,391.8 L886.5,392.0 L885.5,392.2 L884.5,392.2 L883.5,391.8 L882.5,390.9 L881.5,389.5 L880.5,386.7 L879.5,384.8 L878.5,383.7 L877.5,384.1 L876.5,383.5 L875.5,383.8 L874.5,384.0 L873.5,383.8 L872.5,383.2 L871.5,383.6 L870.5,384.5 L869.5,383.6 L868.5,383.9 L867.5,384.1 L866.5,383.6 L865.5,383.6 L864.5,384.9 L863.5,384.0 L862.5,383.4 L861.5,384.6 L860.5,384.2 L859.5,384.4 L858.5,384.1 L857.5,384.5 L856.5,384.4 L855.5,383.6 L854.5,385.0 L853.5,384.1 L852.5,385.1 L851.5,384.8 L850.5,384.0 L849.5,385.3 L848.5,385.6 L847.5,385.1 L846.5,385.9 L845.5,385.1 L844.5,385.3 L843.5,385.6 L842.5,386.0 L841.5,385.6 L840.5,385.5 L839.5,385.0 L838.5,386.2 L837.5,386.3 L836.5,385.5 L835.5,386.3 L834.5,385.9 L833.5,386.6 L832.5,386.0 L831.5,386.2 L830.5,385.7 L829.5,386.9 L828.5,386.6 L827.5,387.5 L826.5,386.2 L825.5,386.5 L824.5,386.7 L823.5,386.6 L822.5,387.4 L821.5,386.4 L820.5,387.1 L819.5,387.0 L818.5,387.3 L817.5,387.0 L816.5,388.3 L815.5,387.7 L814.5,388.8 L813.5,387.2 L812.5,388.1 L811.5,387.9 L810.5,387.8 L809.5,387.6 L808.5,389.0 L807.5,387.7 L806.5,389.3 L805.5,388.9 L804.5,389.3 L803.5,388.3 L802.5,388.9 L801.5,389.0 L800.5,388.4 L799.5,389.1 L798.5,389.6 L797.5,390.0 L796.5,389.5 L795.5,389.4 L794.5,389.1 L793.5,389.7 L792.5,389.3 L791.5,389.4 L790.5,389.9 L789.5,390.6 L788.5,389.8 L787.5,390.3 L786.5,390.7 L785.5,390.0 L784.5,389.7 L783.5,389.2 L782.5,390.6 L781.5,389.5 L780.5,389.7 L779.5,390.5 L778.5,391.1 L777.5,389.5 L776.5,389.8 L775.5,390.3 L774.5,391.4 L773.5,390.3 L772.5,391.1 L771.5,391.6 L770.5,390.9 L769.5,391.0 L768.5,389.8 L767.5,390.8 L766.5,390.6 L765.5,389.8 L764.5,389.9 L763.5,390.8 L762.5,391.2 L761.5,390.0 L760.5,390.3 L759.5,389.5 L758.5,390.6 L757.5,390.4 L756.5,389.9 L755.5,389.7 L754.5,389.9 L753.5,389.5 L752.5,387.1 L751.5,387.0 L750.5,386.7 L749.5,388.1 L748.5,386.8 L747.5,388.4 L746.5,388.6 L745.5,387.1 L744.5,387.4 L743.5,388.5 L742.5,388.9 L741.5,389.0 L740.5,387.4 L739.5,389.2 L738.5,387.9 L737.5,389.0 L736.5,389.3 L735.5,389.4 L734.5,388.7 L733.5,389.2 L732.5,389.6 L731.5,388.7 L730.5,389.7 L729.5,388.8 L728.5,389.9 L727.5,389.5 L726.5,390.3 L725.5,389.8 L724.5,389.1 L723.5,389.6 L722.5,389.3 L721.5,390.1 L720.5,390.7 L719.5,390.2 L718.5,390.8 L717.5,390.5 L716.5,390.7 L715.5,391.1 L714.5,390.4 L713.5,390.3 L712.5,390.6 L711.5,390.3 L710.5,390.0 L709.5,391.7 L708.5,390.4 L707.5,390.8 L706.5,390.6 L705.5,391.2 L704.5,390.7 L703.5,390.7 L702.5,391.0 L701.5,391.3 L700.5,391.9 L699.5,390.9 L698.5,392.6 L697.5,391.5 L696.5,392.8 L695.5,391.7 L694.5,392.6 L693.5,391.8 L692.5,392.0 L691.5,392.7 L690.5,392.6 L689.5,392.4 L688.5,391.9 L687.5,392.1 L686.5,392.0 L685.5,393.3 L684.5,392.1 L683.5,393.1 L682.5,392.7 L681.5,393.0 L680.5,393.3 L679.5,393.4 L678.5,393.2 L677.5,393.2 L676.5,393.2 L675.5,393.5 L674.5,393.1 L673.5,393.4 L672.5,393.3 L671.5,393.0 L670.5,393.6 L669.5,392.5 L668.5,394.1 L667.5,392.8 L666.5,394.0 L665.5,392.8 L664.5,392.8 L663.5,392.9 L662.5,392.4 L661.5,392.9 L660.5,393.3 L659.5,393.4 L658.5,392.1 L657.5,391.3 L656.5,388.5 L655.5,388.7 L654.5,388.3 L653.5,388.7 L652.5,388.3 L651.5,387.9 L650.5,388.4 L649.5,388.6 L648.5,389.4 L647.5,388.2 L646.5,388.4 L645.5,388.7 L644.5,389.8 L643.5,388.7 L642.5,388.8 L641.5,388.8 L640.5,389.1 L639.5,389.6 L638.5,389.5 L637.5,389.9 L636.5,388.9 L635.5,389.6 L634.5,389.9 L633.5,390.0 L632.5,388.7 L631.5,390.4 L630.5,389.8 L629.5,389.7 L628.5,389.4 L627.5,389.2 L626.5,390.8 L625.5,389.1 L624.5,390.1 L623.5,389.5 L622.5,389.7 L621.5,389.1 L620.5,388.4 L619.5,389.8 L618.5,388.7 L617.5,389.2 L616.5,388.8 L615.5,388.3 L614.5,388.7 L613.5,389.4 L612.5,388.0 L611.5,389.4 L610.5,388.1 L609.5,387.8 L608.5,389.2 L607.5,388.7 L606.5,387.9 L605.5,388.9 L604.5,388.6 L603.5,389.0 L602.5,387.5 L601.5,388.5 L600.5,388.2 L599.5,387.9 L598.5,389.1 L597.5,388.8 L596.5,387.6 L595.5,387.5 L594.5,389.1 L593.5,388.1 L592.5,388.9 L591.5,388.8 L590.5,388.7 L589.5,389.0 L588.5,388.4 L587.5,388.5 L586.5,388.2 L585.5,387.9 L584.5,388.5 L583.5,388.1 L582.5,387.5 L581.5,387.6 L580.5,388.4 L579.5,387.7 L578.5,388.9 L577.5,388.7 L576.5,387.6 L575.5,388.7 L574.5,389.0 L573.5,387.5 L572.5,387.5 L571.5,388.3 L570.5,388.4 L569.5,388.4 L568.5,387.9 L567.5,387.6 L566.5,389.0 L565.5,388.5 L564.5,387.9 L563.5,388.3 L562.5,388.6 L561.5,388.7 L560.5,388.8 L559.5,388.5 L558.5,388.0 L557.5,389.3 L556.5,388.3 L555.5,388.7 L554.5,388.8 L553.5,388.9 L552.5,388.0 L551.5,389.0 L550.5,389.7 L549.5,389.6 L548.5,388.8 L547.5,388.2 L546.5,388.7 L545.5,388.9 L544.5,388.4 L543.5,389.6 L542.5,388.9 L541.5,388.9 L540.5,389.4 L539.5,389.0 L538.5,389.8 L537.5,388.3 L536.5,388.6 L535.5,388.4 L534.5,390.1 L533.5,388.7 L532.5,388.6 L531.5,389.0 L530.5,389.4 L529.5,390.2 L528.5,389.8 L527.5,389.7 L526.5,388.7 L525.5,390.1 L524.5,389.7 L523.5,389.3 L522.5,389.1 L521.5,390.1 L520.5,390.2 L519.5,390.5 L518.5,390.0 L517.5,389.4 L516.5,390.3 L515.5,389.2 L514.5,389.4 L513.5,390.7 L512.5,390.2 L511.5,389.1 L510.5,389.4 L509.5,390.0 L508.5,390.2 L507.5,390.5 L506.5,390.6 L505.5,389.3 L504.5,389.6 L503.5,390.2 L502.5,389.6 L501.5,390.7 L500.5,390.0 L499.5,389.9 L498.5,390.1 L497.5,391.1 L496.5,390.5 L495.5,390.9 L494.5,391.1 L493.5,391.2 L492.5,390.8 L491.5,391.4 L490.5,390.5 L489.5,390.7 L488.5,390.5 L487.5,391.3 L486.5,390.4 L485.5,390.6 L484.5,391.0 L483.5,390.9 L482.5,391.7 L481.5,391.6 L480.5,392.1 L479.5,390.9 L478.5,391.1 L477.5,391.9 L476.5,392.3 L475.5,391.9 L474.5,392.7 L473.5,392.5 L472.5,392.1 L471.5,391.6 L470.5,393.0 L469.5,392.3 L468.5,391.8 L467.5,393.4 L466.5,393.3 L465.5,392.4 L464.5,393.1 L463.5,392.2 L462.5,393.6 L461.5,392.3 L460.5,393.6 L459.5,392.9 L458.5,393.5 L457.5,392.9 L456.5,393.2 L455.5,393.4 L454.5,393.2 L453.5,393.0 L452.5,394.2 L451.5,394.7 L450.5,393.4 L449.5,393.8 L448.5,393.7 L447.5,394.5 L446.5,394.0 L445.5,394.7 L444.5,394.1 L443.5,395.2 L442.5,395.1 L441.5,394.5 L440.5,395.2 L439.5,394.3 L438.5,394.1 L437.5,394.9 L436.5,395.0 L435.5,395.2 L434.5,395.6 L433.5,394.2 L432.5,394.7 L431.5,395.3 L430.5,395.5 L429.5,395.2 L428.5,394.4 L427.5,394.6 L426.5,394.7 L425.5,395.3 L424.5,394.9 L423.5,394.9 L422.5,395.2 L421.5,396.7 L420.5,397.0 L419.5,396.8 L418.5,396.0 L417.5,397.4 L416.5,396.3 L415.5,396.8 L414.5,397.7 L413.5,397.2 L412.5,396.8 L411.5,397.7 L410.5,397.8 L409.5,398.4 L408.5,398.0 L407.5,398.3 L406.5,398.3 L405.5,398.6 L404.5,398.8 L403.5,399.2 L402.5,400.0 L401.5,400.5 L400.5,400.1 L399.5,400.9 L398.5,402.3 L397.5,402.7 L396.5,401.9 L395.5,403.4 L394.5,403.7 L393.5,402.5 L392.5,403.7 L391.5,404.6 L390.5,404.7 L389.5,404.1 L388.5,404.4 L387.5,405.1 L386.5,404.9 L385.5,405.2 L384.5,405.5 L383.5,405.8 L382.5,406.9 L381.5,407.4 L380.5,407.5 L379.5,407.9 L378.5,408.5 L377.5,409.2 L376.5,410.1 L375.5,410.4 L374.5,410.8 L373.5,411.2 L372.5,412.1 L371.5,412.5 L370.5,413.4 L369.5,414.1 L368.5,414.1 L367.5,415.4 L366.5,415.8 L365.5,416.1 L364.5,417.0 L363.5,417.5 L362.5,418.3 L361.5,419.4 L360.5,419.9 L359.5,420.2 L358.5,421.4 L357.5,421.8 L356.5,422.9 L355.5,423.2 L354.5,424.1 L353.5,424.6 L352.5,425.5 L351.5,425.9 L350.5,426.4 L349.5,427.1 L348.5,428.0 L347.5,428.3 L346.5,428.8 L345.5,429.5 L344.5,430.8 L343.5,430.3 L342.5,430.3 L341.5,430.2 L340.5,431.0 L339.5,430.7 L338.5,431.3 L337.5,431.2 L336.5,431.2 L335.5,431.8 L334.5,431.8 L333.5,432.2 L332.5,432.8 L331.5,432.8 L330.5,433.2 L329.5,433.4 L328.5,433.8 L327.5,434.0 L326.5,434.7 L325.5,434.7 L324.5,435.4 L323.5,435.5 L322.5,435.4 L321.5,435.9 L320.5,436.7 L319.5,436.8 L318.5,437.4 L317.5,437.5 L316.5,437.8 L315.5,437.8 L314.5,437.7 L313.5,438.1 L312.5,437.9 L311.5,438.4 L310.5,438.3 L309.5,438.4 L308.5,438.1 L307.5,438.7 L306.5,438.9 L305.5,438.5 L304.5,438.4 L303.5,438.5 L302.5,438.7 L301.5,438.7 L300.5,438.5 L299.5,438.7 L298.5,438.7 L297.5,438.9 L296.5,438.8 L295.5,438.8 L294.5,438.7 L293.5,438.5 L292.5,438.6 L291.5,438.4 L290.5,438.4 L289.5,438.7 L288.5,438.7 L287.5,438.8 L286.5,438.8 L285.5,438.5 L284.5,438.7 L283.5,438.5 L282.5,439.0 L281.5,438.5 L280.5,438.5 L279.5,438.4 L278.5,439.0 L277.5,438.8 L276.5,438.9 L275.5,438.4 L274.5,438.7 L273.5,438.4 L272.5,438.6 L271.5,438.6 L270.5,439.0 L269.5,438.7 L268.5,439.0 L267.5,439.0 L266.5,439.0 L265.5,438.6 L264.5,438.6 L263.5,439.0 L262.5,438.7 L261.5,438.6 L260.5,439.0 L259.5,438.5 L258.5,438.8 L257.5,439.0 L256.5,438.4 L255.5,438.4 L254.5,438.7 L253.5,438.4 L252.5,438.9 L251.5,438.4 L250.5,438.7 L249.5,438.8 L248.5,438.5 L247.5,438.4 L246.5,438.9 L245.5,438.4 L244.5,438.5 L243.5,438.4 L242.5,438.7 L241.5,438.7 L240.5,439.0 L239.5,438.9 L238.5,438.9 L237.5,439.0 L236.5,439.0 L235.5,438.8 L234.5,438.9 L233.5,439.0 L232.5,438.7 L231.5,439.2 L230.5,438.8 L229.5,439.0 L228.5,438.7 L227.5,439.3 L226.5,439.0 L225.5,438.8 L224.5,439.1 L223.5,438.9 L222.5,439.3 L221.5,439.4 L220.5,439.1 L219.5,439.3 L218.5,439.0 L217.5,439.1 L216.5,439.6 L215.5,439.2 L214.5,439.2 L213.5,439.4 L212.5,439.5 L211.5,439.2 L210.5,439.5 L209.5,439.3 Z" fill="#000"/>
<path d="M715,186 V196.6 M796,188 V203.3 M874,189 V200.8 M1035,182 V192.3" stroke="#000" stroke-width="2.4"/>
<path d="M511.5,389 V396.7 M514,389 V396 M752.5,366 V374 M879.5,364 V372 M877,383 V389 M1032,362 V375" stroke="#000" stroke-width="2"/>
</g>
<text x="21.62" y="56.30" font-family="Liberation Sans" font-weight="bold" font-size="51" fill="#fff" textLength="26.28" lengthAdjust="spacingAndGlyphs" stroke="#fff" stroke-width="2.4" stroke-linejoin="round" opacity="0.8">a</text>
<text x="21.62" y="56.30" font-family="Liberation Sans" font-weight="bold" font-size="51" fill="#000" textLength="26.28" lengthAdjust="spacingAndGlyphs">a</text>
<text x="143.00" y="68.80" font-family="Liberation Sans" font-weight="normal" font-size="23.4" fill="#fff" textLength="39.32" lengthAdjust="spacingAndGlyphs" stroke="#fff" stroke-width="2.4" stroke-linejoin="round" opacity="0.8">300</text>
<text x="143.00" y="68.80" font-family="Liberation Sans" font-weight="normal" font-size="23.4" fill="#000" textLength="39.32" lengthAdjust="spacingAndGlyphs" stroke="#000" stroke-width="0.5">300</text>
<text x="170.91" y="129.50" font-family="Liberation Sans" font-weight="normal" font-size="23.0" fill="#fff" textLength="11.29" lengthAdjust="spacingAndGlyphs" stroke="#fff" stroke-width="2.4" stroke-linejoin="round" opacity="0.8">0</text>
<text x="170.91" y="129.50" font-family="Liberation Sans" font-weight="normal" font-size="23.0" fill="#000" textLength="11.29" lengthAdjust="spacingAndGlyphs" stroke="#000" stroke-width="0.5">0</text>
<text x="144.11" y="172.70" font-family="Liberation Sans" font-weight="normal" font-size="23.4" fill="#fff" textLength="39.21" lengthAdjust="spacingAndGlyphs" stroke="#fff" stroke-width="2.4" stroke-linejoin="round" opacity="0.8">150</text>
<text x="144.11" y="172.70" font-family="Liberation Sans" font-weight="normal" font-size="23.4" fill="#000" textLength="39.21" lengthAdjust="spacingAndGlyphs" stroke="#000" stroke-width="0.5">150</text>
<text x="155.38" y="229.60" font-family="Liberation Sans" font-weight="normal" font-size="23.4" fill="#fff" textLength="26.52" lengthAdjust="spacingAndGlyphs" stroke="#fff" stroke-width="2.4" stroke-linejoin="round" opacity="0.8">75</text>
<text x="155.38" y="229.60" font-family="Liberation Sans" font-weight="normal" font-size="23.4" fill="#000" textLength="26.52" lengthAdjust="spacingAndGlyphs" stroke="#000" stroke-width="0.5">75</text>
<text x="169.95" y="286.50" font-family="Liberation Sans" font-weight="normal" font-size="23.0" fill="#fff" textLength="10.70" lengthAdjust="spacingAndGlyphs" stroke="#fff" stroke-width="2.4" stroke-linejoin="round" opacity="0.8">0</text>
<text x="169.95" y="286.50" font-family="Liberation Sans" font-weight="normal" font-size="23.0" fill="#000" textLength="10.70" lengthAdjust="spacingAndGlyphs" stroke="#000" stroke-width="0.5">0</text>
<text x="143.06" y="367.00" font-family="Liberation Sans" font-weight="normal" font-size="23.4" fill="#fff" textLength="40.28" lengthAdjust="spacingAndGlyphs" stroke="#fff" stroke-width="2.4" stroke-linejoin="round" opacity="0.8">150</text>
<text x="143.06" y="367.00" font-family="Liberation Sans" font-weight="normal" font-size="23.4" fill="#000" textLength="40.28" lengthAdjust="spacingAndGlyphs" stroke="#000" stroke-width="0.5">150</text>
<text x="155.38" y="421.60" font-family="Liberation Sans" font-weight="normal" font-size="23.4" fill="#fff" textLength="26.52" lengthAdjust="spacingAndGlyphs" stroke="#fff" stroke-width="2.4" stroke-linejoin="round" opacity="0.8">75</text>
<text x="155.38" y="421.60" font-family="Liberation Sans" font-weight="normal" font-size="23.4" fill="#000" textLength="26.52" lengthAdjust="spacingAndGlyphs" stroke="#000" stroke-width="0.5">75</text>
<text x="169.41" y="477.50" font-family="Liberation Sans" font-weight="normal" font-size="23.0" fill="#fff" textLength="11.29" lengthAdjust="spacingAndGlyphs" stroke="#fff" stroke-width="2.4" stroke-linejoin="round" opacity="0.8">0</text>
<text x="169.41" y="477.50" font-family="Liberation Sans" font-weight="normal" font-size="23.0" fill="#000" textLength="11.29" lengthAdjust="spacingAndGlyphs" stroke="#000" stroke-width="0.5">0</text>
<text transform="rotate(-90)" x="-111.00" y="109.10" font-family="Liberation Sans" font-weight="bold" font-size="24.8" fill="#fff" textLength="32.46" lengthAdjust="spacingAndGlyphs" stroke="#fff" stroke-width="2.4" stroke-linejoin="round" opacity="0.8">HR</text>
<text transform="rotate(-90)" x="-111.00" y="109.10" font-family="Liberation Sans" font-weight="bold" font-size="24.8" fill="#000" textLength="32.46" lengthAdjust="spacingAndGlyphs">HR</text>
<text transform="rotate(-90)" x="-152.29" y="137.30" font-family="Liberation Sans" font-weight="bold" font-size="24.5" fill="#fff" textLength="113.46" lengthAdjust="spacingAndGlyphs" stroke="#fff" stroke-width="2.4" stroke-linejoin="round" opacity="0.8">Beats/min</text>
<text transform="rotate(-90)" x="-152.29" y="137.30" font-family="Liberation Sans" font-weight="bold" font-size="24.5" fill="#000" textLength="113.46" lengthAdjust="spacingAndGlyphs">Beats/min</text>
<text transform="rotate(-90)" x="-237.70" y="108.90" font-family="Liberation Sans" font-weight="bold" font-size="24.8" fill="#fff" textLength="31.06" lengthAdjust="spacingAndGlyphs" stroke="#fff" stroke-width="2.4" stroke-linejoin="round" opacity="0.8">BP</text>
<text transform="rotate(-90)" x="-237.70" y="108.90" font-family="Liberation Sans" font-weight="bold" font-size="24.8" fill="#000" textLength="31.06" lengthAdjust="spacingAndGlyphs">BP</text>
<text transform="rotate(-90)" x="-261.51" y="138.10" font-family="Liberation Sans" font-weight="bold" font-size="24.5" fill="#fff" textLength="77.54" lengthAdjust="spacingAndGlyphs" stroke="#fff" stroke-width="2.4" stroke-linejoin="round" opacity="0.8">mm Hg</text>
<text transform="rotate(-90)" x="-261.51" y="138.10" font-family="Liberation Sans" font-weight="bold" font-size="24.5" fill="#000" textLength="77.54" lengthAdjust="spacingAndGlyphs">mm Hg</text>
<text transform="rotate(-90)" x="-435.57" y="108.90" font-family="Liberation Sans" font-weight="bold" font-size="24.8" fill="#fff" textLength="32.57" lengthAdjust="spacingAndGlyphs" stroke="#fff" stroke-width="2.4" stroke-linejoin="round" opacity="0.8">BP</text>
<text transform="rotate(-90)" x="-435.57" y="108.90" font-family="Liberation Sans" font-weight="bold" font-size="24.8" fill="#000" textLength="32.57" lengthAdjust="spacingAndGlyphs">BP</text>
<text transform="rotate(-90)" x="-457.92" y="138.10" font-family="Liberation Sans" font-weight="bold" font-size="24.5" fill="#fff" textLength="78.06" lengthAdjust="spacingAndGlyphs" stroke="#fff" stroke-width="2.4" stroke-linejoin="round" opacity="0.8">mm Hg</text>
<text transform="rotate(-90)" x="-457.92" y="138.10" font-family="Liberation Sans" font-weight="bold" font-size="24.5" fill="#000" textLength="78.06" lengthAdjust="spacingAndGlyphs">mm Hg</text>
<text x="576.84" y="53.00" font-family="Liberation Sans" font-weight="bold" font-size="24.4" fill="#fff" textLength="314.73" lengthAdjust="spacingAndGlyphs" stroke="#fff" stroke-width="2.4" stroke-linejoin="round" opacity="0.8">Methoxamine (20 <tspan font-family="Liberation Serif" font-weight="bold">μ</tspan>g/kg·min)</text>
<text x="576.84" y="53.00" font-family="Liberation Sans" font-weight="bold" font-size="24.4" fill="#000" textLength="314.73" lengthAdjust="spacingAndGlyphs">Methoxamine (20 <tspan font-family="Liberation Serif" font-weight="bold">μ</tspan>g/kg·min)</text>
<text x="643.24" y="328.00" font-family="Liberation Sans" font-weight="bold" font-size="24.2" fill="#fff" textLength="385.52" lengthAdjust="spacingAndGlyphs" stroke="#fff" stroke-width="2.4" stroke-linejoin="round" opacity="0.8">Dihydroergotamine (3.1 <tspan font-family="Liberation Serif" font-weight="bold">μ</tspan>g/kg·min)</text>
<text x="643.24" y="328.00" font-family="Liberation Sans" font-weight="bold" font-size="24.2" fill="#000" textLength="385.52" lengthAdjust="spacingAndGlyphs">Dihydroergotamine (3.1 <tspan font-family="Liberation Serif" font-weight="bold">μ</tspan>g/kg·min)</text>
<text x="321.68" y="511.30" font-family="Liberation Sans" font-weight="bold" font-size="20.5" fill="#fff" textLength="61.07" lengthAdjust="spacingAndGlyphs" stroke="#fff" stroke-width="2.4" stroke-linejoin="round" opacity="0.8">5 min</text>
<text x="321.68" y="511.30" font-family="Liberation Sans" font-weight="bold" font-size="20.5" fill="#000" textLength="61.07" lengthAdjust="spacingAndGlyphs">5 min</text>
<text x="626.90" y="250.60" font-family="Liberation Sans" font-weight="normal" font-size="18" fill="#fff" textLength="34.78" lengthAdjust="spacingAndGlyphs" stroke="#fff" stroke-width="2.4" stroke-linejoin="round" opacity="0.8">0.56</text>
<text x="626.90" y="250.60" font-family="Liberation Sans" font-weight="normal" font-size="18" fill="#333" textLength="34.78" lengthAdjust="spacingAndGlyphs">0.56</text>
<text x="709.13" y="250.60" font-family="Liberation Sans" font-weight="normal" font-size="18" fill="#fff" textLength="24.97" lengthAdjust="spacingAndGlyphs" stroke="#fff" stroke-width="2.4" stroke-linejoin="round" opacity="0.8">1.0</text>
<text x="709.13" y="250.60" font-family="Liberation Sans" font-weight="normal" font-size="18" fill="#333" textLength="24.97" lengthAdjust="spacingAndGlyphs">1.0</text>
<text x="792.88" y="250.60" font-family="Liberation Sans" font-weight="normal" font-size="18" fill="#fff" textLength="25.93" lengthAdjust="spacingAndGlyphs" stroke="#fff" stroke-width="2.4" stroke-linejoin="round" opacity="0.8">1.8</text>
<text x="792.88" y="250.60" font-family="Liberation Sans" font-weight="normal" font-size="18" fill="#333" textLength="25.93" lengthAdjust="spacingAndGlyphs">1.8</text>
<text x="868.02" y="250.60" font-family="Liberation Sans" font-weight="normal" font-size="18" fill="#fff" textLength="24.85" lengthAdjust="spacingAndGlyphs" stroke="#fff" stroke-width="2.4" stroke-linejoin="round" opacity="0.8">3.1</text>
<text x="868.02" y="250.60" font-family="Liberation Sans" font-weight="normal" font-size="18" fill="#333" textLength="24.85" lengthAdjust="spacingAndGlyphs">3.1</text>
<text x="1026.86" y="250.60" font-family="Liberation Sans" font-weight="normal" font-size="18" fill="#fff" textLength="25.76" lengthAdjust="spacingAndGlyphs" stroke="#fff" stroke-width="2.4" stroke-linejoin="round" opacity="0.8">5.6</text>
<text x="1026.86" y="250.60" font-family="Liberation Sans" font-weight="normal" font-size="18" fill="#333" textLength="25.76" lengthAdjust="spacingAndGlyphs">5.6</text>
<text x="774.30" y="278.30" font-family="Liberation Sans" font-weight="normal" font-size="17.5" fill="#fff" textLength="126.34" lengthAdjust="spacingAndGlyphs" stroke="#fff" stroke-width="2.4" stroke-linejoin="round" opacity="0.8">Frequency (Hz)</text>
<text x="774.30" y="278.30" font-family="Liberation Sans" font-weight="normal" font-size="17.5" fill="#333" textLength="126.34" lengthAdjust="spacingAndGlyphs">Frequency (Hz)</text>
<text x="603.31" y="440.00" font-family="Liberation Sans" font-weight="normal" font-size="18" fill="#fff" textLength="34.47" lengthAdjust="spacingAndGlyphs" stroke="#fff" stroke-width="2.4" stroke-linejoin="round" opacity="0.8">0.56</text>
<text x="603.31" y="440.00" font-family="Liberation Sans" font-weight="normal" font-size="18" fill="#333" textLength="34.47" lengthAdjust="spacingAndGlyphs">0.56</text>
<text x="655.69" y="440.00" font-family="Liberation Sans" font-weight="normal" font-size="18" fill="#fff" textLength="23.99" lengthAdjust="spacingAndGlyphs" stroke="#fff" stroke-width="2.4" stroke-linejoin="round" opacity="0.8">1.0</text>
<text x="655.69" y="440.00" font-family="Liberation Sans" font-weight="normal" font-size="18" fill="#333" textLength="23.99" lengthAdjust="spacingAndGlyphs">1.0</text>
<text x="747.71" y="440.00" font-family="Liberation Sans" font-weight="normal" font-size="18" fill="#fff" textLength="23.52" lengthAdjust="spacingAndGlyphs" stroke="#fff" stroke-width="2.4" stroke-linejoin="round" opacity="0.8">1.8</text>
<text x="747.71" y="440.00" font-family="Liberation Sans" font-weight="normal" font-size="18" fill="#333" textLength="23.52" lengthAdjust="spacingAndGlyphs">1.8</text>
<text x="866.36" y="440.00" font-family="Liberation Sans" font-weight="normal" font-size="18" fill="#fff" textLength="23.47" lengthAdjust="spacingAndGlyphs" stroke="#fff" stroke-width="2.4" stroke-linejoin="round" opacity="0.8">3.1</text>
<text x="866.36" y="440.00" font-family="Liberation Sans" font-weight="normal" font-size="18" fill="#333" textLength="23.47" lengthAdjust="spacingAndGlyphs">3.1</text>
<text x="1014.76" y="440.00" font-family="Liberation Sans" font-weight="normal" font-size="18" fill="#fff" textLength="25.86" lengthAdjust="spacingAndGlyphs" stroke="#fff" stroke-width="2.4" stroke-linejoin="round" opacity="0.8">5.6</text>
<text x="1014.76" y="440.00" font-family="Liberation Sans" font-weight="normal" font-size="18" fill="#333" textLength="25.86" lengthAdjust="spacingAndGlyphs">5.6</text>
<text x="752.50" y="467.30" font-family="Liberation Sans" font-weight="normal" font-size="17.5" fill="#fff" textLength="126.14" lengthAdjust="spacingAndGlyphs" stroke="#fff" stroke-width="2.4" stroke-linejoin="round" opacity="0.8">Frequency (Hz)</text>
<text x="752.50" y="467.30" font-family="Liberation Sans" font-weight="normal" font-size="17.5" fill="#333" textLength="126.14" lengthAdjust="spacingAndGlyphs">Frequency (Hz)</text>
<text x="111.30" y="604.20" font-family="Liberation Sans" font-weight="bold" font-size="50" fill="#000" textLength="31.52" lengthAdjust="spacingAndGlyphs">b</text>
<text x="647.96" y="603.50" font-family="Liberation Sans" font-weight="bold" font-size="50" fill="#000" textLength="29.07" lengthAdjust="spacingAndGlyphs">c</text>
<line x1="221.79999999999998" y1="591.7" x2="265.6" y2="591.7" stroke="#ff8000" stroke-width="4.5"/>
<circle cx="244.1" cy="591.7" r="15.9" fill="#ffc486" stroke="#ff8000" stroke-width="4.2"/>
<text x="290.43" y="604.90" font-family="Liberation Sans" font-weight="normal" font-size="39" fill="#000" textLength="124.96" lengthAdjust="spacingAndGlyphs">Control</text>
<text x="224.72" y="651.80" font-family="Liberation Sans" font-weight="normal" font-size="39" fill="#000" textLength="287.88" lengthAdjust="spacingAndGlyphs">DHE (<tspan font-family="Liberation Serif" font-weight="normal">μ</tspan>g/kg·min)</text>
<line x1="220.3" y1="685.7" x2="264.2" y2="685.7" stroke="#159bb5" stroke-width="3.8"/>
<rect x="228.45" y="671.6500000000001" width="28.1" height="28.1" fill="#d2defa" stroke="#159bb5" stroke-width="4.3" stroke-linejoin="round"/>
<text x="289.63" y="699.70" font-family="Liberation Sans" font-weight="normal" font-size="39" fill="#000" textLength="49.92" lengthAdjust="spacingAndGlyphs">3.1</text>
<line x1="748.2" y1="589.6" x2="792.0" y2="589.6" stroke="#ff8000" stroke-width="4.5"/>
<circle cx="770.5" cy="589.6" r="15.9" fill="#ffc486" stroke="#ff8000" stroke-width="4.2"/>
<text x="816.92" y="603.50" font-family="Liberation Sans" font-weight="normal" font-size="39" fill="#000" textLength="125.90" lengthAdjust="spacingAndGlyphs">Control</text>
<text x="746.42" y="652.80" font-family="Liberation Sans" font-weight="normal" font-size="39" fill="#000" textLength="288.29" lengthAdjust="spacingAndGlyphs">DHE (<tspan font-family="Liberation Serif" font-weight="normal">μ</tspan>g/kg·min)</text>
<line x1="748.1999999999999" y1="688" x2="792.1" y2="688" stroke="#159bb5" stroke-width="3.8"/>
<rect x="754.05" y="671.65" width="32.7" height="32.7" fill="#d2defa" stroke="#159bb5" stroke-width="4.3" stroke-linejoin="round"/>
<text x="816.73" y="701.80" font-family="Liberation Sans" font-weight="normal" font-size="39" fill="#000" textLength="50.13" lengthAdjust="spacingAndGlyphs">3.1</text>
<line x1="221" y1="740.8" x2="221" y2="1417.7" stroke="#00008b" stroke-width="4.4"/>
<line x1="209.5" y1="744.3" x2="221" y2="744.3" stroke="#00008b" stroke-width="7.2"/>
<line x1="209.5" y1="840.4" x2="221" y2="840.4" stroke="#00008b" stroke-width="4.5"/>
<line x1="209.5" y1="936.6" x2="221" y2="936.6" stroke="#00008b" stroke-width="7.6"/>
<line x1="209.5" y1="1032.3" x2="221" y2="1032.3" stroke="#00008b" stroke-width="4.5"/>
<line x1="209.5" y1="1128" x2="221" y2="1128" stroke="#00008b" stroke-width="7.5"/>
<line x1="209.5" y1="1223.9" x2="221" y2="1223.9" stroke="#00008b" stroke-width="4.5"/>
<line x1="209.5" y1="1319.7" x2="221" y2="1319.7" stroke="#00008b" stroke-width="7.5"/>
<line x1="209.5" y1="1415.5" x2="221" y2="1415.5" stroke="#00008b" stroke-width="4.5"/>
<line x1="747.6" y1="740.7" x2="747.6" y2="1416.9" stroke="#00008b" stroke-width="4.4"/>
<line x1="735.8" y1="744.2" x2="747.6" y2="744.2" stroke="#00008b" stroke-width="7.7"/>
<line x1="735.8" y1="840.3" x2="747.6" y2="840.3" stroke="#00008b" stroke-width="4.5"/>
<line x1="735.8" y1="935.8" x2="747.6" y2="935.8" stroke="#00008b" stroke-width="7.8"/>
<line x1="735.8" y1="1031.2" x2="747.6" y2="1031.2" stroke="#00008b" stroke-width="4.5"/>
<line x1="735.8" y1="1127.7" x2="747.6" y2="1127.7" stroke="#00008b" stroke-width="7.8"/>
<line x1="735.8" y1="1223.4" x2="747.6" y2="1223.4" stroke="#00008b" stroke-width="4.5"/>
<line x1="735.8" y1="1319" x2="747.6" y2="1319" stroke="#00008b" stroke-width="7.8"/>
<line x1="735.8" y1="1414.7" x2="747.6" y2="1414.7" stroke="#00008b" stroke-width="4.7"/>
<line x1="228.5" y1="1441.4" x2="570" y2="1441.4" stroke="#00008b" stroke-width="4.4"/>
<line x1="232.4" y1="1441.4" x2="232.4" y2="1453.1" stroke="#00008b" stroke-width="7.8"/>
<line x1="289.3" y1="1441.4" x2="289.3" y2="1453.1" stroke="#00008b" stroke-width="7.8"/>
<line x1="344.7" y1="1441.4" x2="344.7" y2="1453.1" stroke="#00008b" stroke-width="7.8"/>
<line x1="401.4" y1="1441.4" x2="401.4" y2="1453.1" stroke="#00008b" stroke-width="7.8"/>
<line x1="453.6" y1="1441.4" x2="453.6" y2="1453.1" stroke="#00008b" stroke-width="7.8"/>
<line x1="510.2" y1="1441.4" x2="510.2" y2="1453.1" stroke="#00008b" stroke-width="7.8"/>
<line x1="566.1" y1="1441.4" x2="566.1" y2="1453.1" stroke="#00008b" stroke-width="7.8"/>
<line x1="755.5" y1="1441" x2="1097" y2="1441" stroke="#00008b" stroke-width="4.4"/>
<line x1="759.5" y1="1441" x2="759.5" y2="1453.1" stroke="#00008b" stroke-width="7.8"/>
<line x1="814.1" y1="1441" x2="814.1" y2="1453.1" stroke="#00008b" stroke-width="7.8"/>
<line x1="871" y1="1441" x2="871" y2="1453.1" stroke="#00008b" stroke-width="7.8"/>
<line x1="923.7" y1="1441" x2="923.7" y2="1453.1" stroke="#00008b" stroke-width="7.8"/>
<line x1="980.6" y1="1441" x2="980.6" y2="1453.1" stroke="#00008b" stroke-width="7.8"/>
<line x1="1036.4" y1="1441" x2="1036.4" y2="1453.1" stroke="#00008b" stroke-width="7.8"/>
<line x1="1093" y1="1441" x2="1093" y2="1453.1" stroke="#00008b" stroke-width="7.8"/>
<text x="182.17" y="759.20" font-family="Liberation Sans" font-weight="normal" font-size="39.5" fill="#000" textLength="21.76" lengthAdjust="spacingAndGlyphs">0</text>
<text x="133.22" y="950.30" font-family="Liberation Sans" font-weight="normal" font-size="39.5" fill="#000" textLength="69.15" lengthAdjust="spacingAndGlyphs">- 10</text>
<text x="133.21" y="1143.40" font-family="Liberation Sans" font-weight="normal" font-size="39.5" fill="#000" textLength="69.47" lengthAdjust="spacingAndGlyphs">- 20</text>
<text x="133.21" y="1335.20" font-family="Liberation Sans" font-weight="normal" font-size="39.5" fill="#000" textLength="69.47" lengthAdjust="spacingAndGlyphs">- 30</text>
<text x="193.23" y="1498.80" font-family="Liberation Sans" font-weight="normal" font-size="38" fill="#000" textLength="73.21" lengthAdjust="spacingAndGlyphs">0.31</text>
<text x="317.19" y="1498.80" font-family="Liberation Sans" font-weight="normal" font-size="38" fill="#000" textLength="54.85" lengthAdjust="spacingAndGlyphs">1.0</text>
<text x="426.03" y="1498.80" font-family="Liberation Sans" font-weight="normal" font-size="38" fill="#000" textLength="53.65" lengthAdjust="spacingAndGlyphs">3.1</text>
<text x="544.66" y="1498.80" font-family="Liberation Sans" font-weight="normal" font-size="38" fill="#000" textLength="41.50" lengthAdjust="spacingAndGlyphs">10</text>
<text x="707.32" y="1498.50" font-family="Liberation Sans" font-weight="normal" font-size="38" fill="#000" textLength="101.16" lengthAdjust="spacingAndGlyphs">0.056</text>
<text x="831.86" y="1498.50" font-family="Liberation Sans" font-weight="normal" font-size="38" fill="#000" textLength="76.86" lengthAdjust="spacingAndGlyphs">0.18</text>
<text x="942.07" y="1498.50" font-family="Liberation Sans" font-weight="normal" font-size="38" fill="#000" textLength="76.15" lengthAdjust="spacingAndGlyphs">0.56</text>
<text x="1068.82" y="1498.50" font-family="Liberation Sans" font-weight="normal" font-size="38" fill="#000" textLength="50.66" lengthAdjust="spacingAndGlyphs">1.8</text>
<text x="221.71" y="1563.30" font-family="Liberation Sans" font-weight="normal" font-size="52" fill="#00008b" textLength="351.55" lengthAdjust="spacingAndGlyphs">Frequency (Hz)</text>
<text x="735.61" y="1564.60" font-family="Liberation Serif" font-weight="normal" font-size="52" fill="#00008b" textLength="371.32" lengthAdjust="spacingAndGlyphs">α<tspan font-family="Liberation Sans" font-weight="normal">-CGRP (</tspan>μ<tspan font-family="Liberation Sans" font-weight="normal">g/kg)</tspan></text>
<text transform="rotate(-90)" x="-1334.26" y="54.80" font-family="Liberation Sans" font-weight="normal" font-size="52" fill="#00008b" textLength="509.93" lengthAdjust="spacingAndGlyphs">% Change in Diastolic</text>
<text transform="rotate(-90)" x="-1258.15" y="113.90" font-family="Liberation Sans" font-weight="normal" font-size="52" fill="#00008b" textLength="353.85" lengthAdjust="spacingAndGlyphs">Blood Pressure</text>
<path d="M344.8,925.6 V958.3 M330.1,958.3 H359.5" stroke="#ff8000" stroke-width="3.6" fill="none"/>
<path d="M402,1054.3 V1094.2 M387.3,1094.2 H416.7" stroke="#ff8000" stroke-width="3.6" fill="none"/>
<path d="M453.9,1229.1 V1267.7 M439.2,1267.7 H468.59999999999997" stroke="#ff8000" stroke-width="3.6" fill="none"/>
<path d="M510.6,1320.3 V1359.5 M495.90000000000003,1359.5 H525.3000000000001" stroke="#ff8000" stroke-width="3.6" fill="none"/>
<path d="M289.1,783 V760 M275.1,760 H303.1" stroke="#159bb5" stroke-width="3.6" fill="none"/>
<path d="M401.6,889.2 V866.6 M387.6,866.6 H415.6" stroke="#159bb5" stroke-width="3.6" fill="none"/>
<path d="M453.9,993.8 V960.1 M439.9,960.1 H467.9" stroke="#159bb5" stroke-width="3.6" fill="none"/>
<path d="M510.6,1080.3 V1060.2 M496.6,1060.2 H524.6" stroke="#159bb5" stroke-width="3.6" fill="none"/>
<polyline points="289.1,831.5 344.8,925.6 402.0,1054.3 453.9,1229.1 510.6,1320.3" fill="none" stroke="#ff8000" stroke-width="3.8"/>
<circle cx="289.1" cy="831.5" r="16" fill="#ffc486" stroke="#ff8000" stroke-width="4.2"/>
<circle cx="344.8" cy="925.6" r="16" fill="#ffc486" stroke="#ff8000" stroke-width="4.2"/>
<circle cx="402" cy="1054.3" r="16" fill="#ffc486" stroke="#ff8000" stroke-width="4.2"/>
<circle cx="453.9" cy="1229.1" r="16" fill="#ffc486" stroke="#ff8000" stroke-width="4.2"/>
<circle cx="510.6" cy="1320.3" r="16" fill="#ffc486" stroke="#ff8000" stroke-width="4.2"/>
<polyline points="289.1,783.0 345.0,801.2 401.6,889.2 453.9,993.8 510.6,1080.3" fill="none" stroke="#159bb5" stroke-width="3.8"/>
<rect x="274.8" y="768.7" width="28.6" height="28.6" fill="#d2defa" stroke="#159bb5" stroke-width="4.3" stroke-linejoin="round"/>
<rect x="330.7" y="786.9000000000001" width="28.6" height="28.6" fill="#d2defa" stroke="#159bb5" stroke-width="4.3" stroke-linejoin="round"/>
<rect x="387.3" y="874.9000000000001" width="28.6" height="28.6" fill="#d2defa" stroke="#159bb5" stroke-width="4.3" stroke-linejoin="round"/>
<rect x="439.59999999999997" y="979.5" width="28.6" height="28.6" fill="#d2defa" stroke="#159bb5" stroke-width="4.3" stroke-linejoin="round"/>
<rect x="496.3" y="1066.0" width="28.6" height="28.6" fill="#d2defa" stroke="#159bb5" stroke-width="4.3" stroke-linejoin="round"/>
<text x="390.92" y="875.90" font-family="Liberation Sans" font-weight="bold" font-size="60.75" fill="#00008b" textLength="23.64" lengthAdjust="spacingAndGlyphs" stroke="#fff" stroke-width="0.5">*</text>
<text x="444.02" y="969.69" font-family="Liberation Sans" font-weight="bold" font-size="59.14" fill="#00008b" textLength="23.84" lengthAdjust="spacingAndGlyphs" stroke="#fff" stroke-width="0.5">*</text>
<text x="499.82" y="1066.18" font-family="Liberation Sans" font-weight="bold" font-size="57.53" fill="#00008b" textLength="23.74" lengthAdjust="spacingAndGlyphs" stroke="#fff" stroke-width="0.5">*</text>
<path d="M814.5,886.5 V803.7 M798.0,803.7 H831.0" stroke="#ff8000" stroke-width="3.6" fill="none"/>
<path d="M871.5,928.7 V832.2 M855.0,832.2 H888.0" stroke="#ff8000" stroke-width="3.6" fill="none"/>
<path d="M923.8,996.5 V896.9 M907.3,896.9 H940.3" stroke="#ff8000" stroke-width="3.6" fill="none"/>
<path d="M980.5,1156 V1036.8 M964.0,1036.8 H997.0" stroke="#ff8000" stroke-width="3.6" fill="none"/>
<path d="M1036.4,1361.4 V1262 M1019.9000000000001,1262 H1052.9" stroke="#ff8000" stroke-width="3.6" fill="none"/>
<polyline points="814.5,886.5 871.5,928.7 923.8,996.5 980.5,1156.0 1036.4,1361.4" fill="none" stroke="#ff8000" stroke-width="3.8"/>
<circle cx="814.5" cy="886.5" r="15.8" fill="#ffc486" stroke="#ff8000" stroke-width="4.2"/>
<circle cx="871.5" cy="928.7" r="15.8" fill="#ffc486" stroke="#ff8000" stroke-width="4.2"/>
<circle cx="923.8" cy="996.5" r="15.8" fill="#ffc486" stroke="#ff8000" stroke-width="4.2"/>
<circle cx="980.5" cy="1156" r="15.8" fill="#ffc486" stroke="#ff8000" stroke-width="4.2"/>
<circle cx="1036.4" cy="1361.4" r="15.8" fill="#ffc486" stroke="#ff8000" stroke-width="4.2"/>
<path d="M871.2,959.3 V918.1 M855.2,918.1 H887.2" stroke="#159bb5" stroke-width="3.6" fill="none"/>
<path d="M923.7,1045.9 V998.2 M907.7,998.2 H939.7" stroke="#159bb5" stroke-width="3.6" fill="none"/>
<path d="M980.6,1217.9 V1172.8 M964.6,1172.8 H996.6" stroke="#159bb5" stroke-width="3.6" fill="none"/>
<path d="M1036.4,1402 V1352 M1020.4000000000001,1352 H1052.4" stroke="#159bb5" stroke-width="3.6" fill="none"/>
<polyline points="814.4,872.7 871.2,959.3 923.7,1045.9 980.6,1217.9 1036.4,1402.0" fill="none" stroke="#159bb5" stroke-width="3.8"/>
<rect x="798.1999999999999" y="856.5" width="32.4" height="32.4" fill="#d2defa" stroke="#159bb5" stroke-width="4.3" stroke-linejoin="round"/>
<rect x="855.0" y="943.0999999999999" width="32.4" height="32.4" fill="#d2defa" stroke="#159bb5" stroke-width="4.3" stroke-linejoin="round"/>
<rect x="907.5" y="1029.7" width="32.4" height="32.4" fill="#d2defa" stroke="#159bb5" stroke-width="4.3" stroke-linejoin="round"/>
<rect x="964.4" y="1201.7" width="32.4" height="32.4" fill="#d2defa" stroke="#159bb5" stroke-width="4.3" stroke-linejoin="round"/>
<rect x="1020.2" y="1385.8" width="32.4" height="32.4" fill="#d2defa" stroke="#159bb5" stroke-width="4.3" stroke-linejoin="round"/>
</svg>
</body></html>
